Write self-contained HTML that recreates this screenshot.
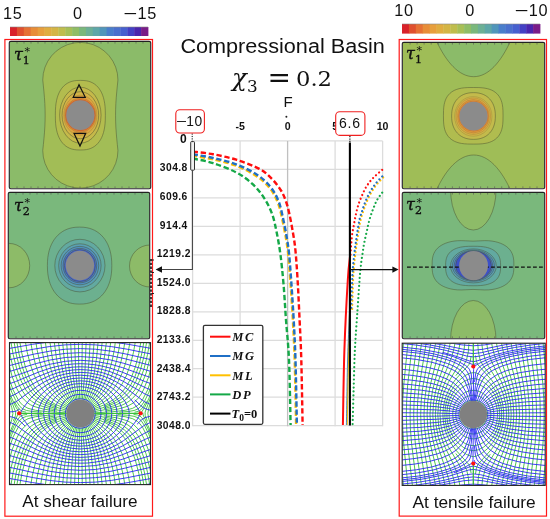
<!DOCTYPE html><html><head><meta charset="utf-8"><title>Compressional Basin</title><style>html,body{margin:0;padding:0;background:#fff;}svg{display:block;}.s{font-family:'Liberation Sans', Arial, sans-serif;} .r{font-family:'Liberation Serif', 'Times New Roman', serif;}</style></head><body><svg width="550" height="519" viewBox="0 0 550 519"><rect width="550" height="519" fill="#fff"/><rect x="10.00" y="27" width="7.30" height="9" fill="#d9222a"/><rect x="16.90" y="27" width="7.30" height="9" fill="#e0502e"/><rect x="23.80" y="27" width="7.30" height="9" fill="#e67134"/><rect x="30.70" y="27" width="7.30" height="9" fill="#e88d38"/><rect x="37.60" y="27" width="7.30" height="9" fill="#e79f3d"/><rect x="44.50" y="27" width="7.30" height="9" fill="#e0ad40"/><rect x="51.40" y="27" width="7.30" height="9" fill="#d4b545"/><rect x="58.30" y="27" width="7.30" height="9" fill="#bfbd4d"/><rect x="65.20" y="27" width="7.30" height="9" fill="#a7bf56"/><rect x="72.10" y="27" width="7.30" height="9" fill="#8fbd65"/><rect x="79.00" y="27" width="7.30" height="9" fill="#7ab87c"/><rect x="85.90" y="27" width="7.30" height="9" fill="#6cb096"/><rect x="92.80" y="27" width="7.30" height="9" fill="#5ea7a8"/><rect x="99.70" y="27" width="7.30" height="9" fill="#5196bb"/><rect x="106.60" y="27" width="7.30" height="9" fill="#4a7ecb"/><rect x="113.50" y="27" width="7.30" height="9" fill="#4a70cd"/><rect x="120.40" y="27" width="7.30" height="9" fill="#4760cf"/><rect x="127.30" y="27" width="7.30" height="9" fill="#4440c4"/><rect x="134.20" y="27" width="7.30" height="9" fill="#4a25ad"/><rect x="141.10" y="27" width="7.30" height="9" fill="#7a1c88"/><line x1="10" y1="27" x2="148" y2="27" stroke="#888" stroke-width="0.6"/><rect x="402.00" y="24" width="7.30" height="9.6" fill="#d9222a"/><rect x="408.90" y="24" width="7.30" height="9.6" fill="#e0502e"/><rect x="415.80" y="24" width="7.30" height="9.6" fill="#e67134"/><rect x="422.70" y="24" width="7.30" height="9.6" fill="#e88d38"/><rect x="429.60" y="24" width="7.30" height="9.6" fill="#e79f3d"/><rect x="436.50" y="24" width="7.30" height="9.6" fill="#e0ad40"/><rect x="443.40" y="24" width="7.30" height="9.6" fill="#d4b545"/><rect x="450.30" y="24" width="7.30" height="9.6" fill="#bfbd4d"/><rect x="457.20" y="24" width="7.30" height="9.6" fill="#a7bf56"/><rect x="464.10" y="24" width="7.30" height="9.6" fill="#8fbd65"/><rect x="471.00" y="24" width="7.30" height="9.6" fill="#7ab87c"/><rect x="477.90" y="24" width="7.30" height="9.6" fill="#6cb096"/><rect x="484.80" y="24" width="7.30" height="9.6" fill="#5ea7a8"/><rect x="491.70" y="24" width="7.30" height="9.6" fill="#5196bb"/><rect x="498.60" y="24" width="7.30" height="9.6" fill="#4a7ecb"/><rect x="505.50" y="24" width="7.30" height="9.6" fill="#4a70cd"/><rect x="512.40" y="24" width="7.30" height="9.6" fill="#4760cf"/><rect x="519.30" y="24" width="7.30" height="9.6" fill="#4440c4"/><rect x="526.20" y="24" width="7.30" height="9.6" fill="#4a25ad"/><rect x="533.10" y="24" width="7.30" height="9.6" fill="#7a1c88"/><line x1="402" y1="24" x2="540" y2="24" stroke="#888" stroke-width="0.6"/><g class="s" font-size="16.3" fill="#111"><text x="2.9" y="18.6" letter-spacing="0.7">15</text><text x="72.9" y="18.6">0</text><text x="0" y="0" transform="translate(123.2 18.6) scale(1.45 1)">&#8722;</text><text x="137.6" y="18.6" letter-spacing="0.7">15</text><text x="394.3" y="15.6" letter-spacing="0.7">10</text><text x="465.3" y="15.6">0</text><text x="0" y="0" transform="translate(514.6 15.6) scale(1.45 1)">&#8722;</text><text x="528.8" y="15.6" letter-spacing="0.7">10</text></g><rect x="4.9" y="39.5" width="147.6" height="476.7" fill="none" stroke="#ff1a1a" stroke-width="1.2"/><rect x="399.2" y="39.5" width="147.3" height="476.6" fill="none" stroke="#ff1a1a" stroke-width="1.2"/><text class="s" x="22.3" y="507" font-size="17.2" fill="#111" textLength="115.2" lengthAdjust="spacingAndGlyphs">At shear failure</text><text class="s" x="412.5" y="508" font-size="17.2" fill="#111" textLength="123.2" lengthAdjust="spacingAndGlyphs">At tensile failure</text><clipPath id="cl1"><rect x="10" y="42" width="140" height="146"/></clipPath><g clip-path="url(#cl1)"><rect x="9" y="41" width="142" height="148" fill="#8bbb69"/><path d="M42.75 80.00 L43.32 73.47 L45.02 67.14 L47.79 61.20 L51.55 55.83 L56.18 51.20 L61.55 47.44 L67.49 44.67 L73.82 42.97 L80.35 42.40 L86.88 42.97 L93.21 44.67 L99.15 47.44 L104.52 51.20 L109.15 55.83 L112.91 61.20 L115.68 67.14 L117.38 73.47 L117.95 80.00 L117.33 85.88 L116.75 91.75 L116.25 97.62 L115.87 103.50 L115.63 109.38 L115.55 115.25 L115.63 121.12 L115.87 127.00 L116.25 132.88 L116.75 138.75 L117.33 144.62 L117.95 150.50 L117.38 157.03 L115.68 163.36 L112.91 169.30 L109.15 174.67 L104.52 179.30 L99.15 183.06 L93.21 185.83 L86.88 187.53 L80.35 188.10 L73.82 187.53 L67.49 185.83 L61.55 183.06 L56.18 179.30 L51.55 174.67 L47.79 169.30 L45.02 163.36 L43.32 157.03 L42.75 150.50 L43.37 144.62 L43.95 138.75 L44.45 132.88 L44.83 127.00 L45.07 121.12 L45.15 115.25 L45.07 109.38 L44.83 103.50 L44.45 97.62 L43.95 91.75 L43.37 85.88Z" fill="#a2bd56" stroke="#4a5030" stroke-opacity="0.75" stroke-width="0.65"/><path d="M105.35 115.20 L105.27 120.14 L105.05 123.78 L104.67 127.00 L104.14 129.95 L103.46 132.67 L102.63 135.19 L101.66 137.51 L100.55 139.64 L99.30 141.57 L97.90 143.32 L96.38 144.87 L94.71 146.22 L92.90 147.37 L90.95 148.31 L88.83 149.05 L86.51 149.58 L83.90 149.89 L80.35 150.00 L76.80 149.89 L74.19 149.58 L71.87 149.05 L69.75 148.31 L67.80 147.37 L65.99 146.22 L64.32 144.87 L62.80 143.32 L61.40 141.57 L60.15 139.64 L59.04 137.51 L58.07 135.19 L57.24 132.67 L56.56 129.95 L56.03 127.00 L55.65 123.78 L55.43 120.14 L55.35 115.20 L55.43 110.26 L55.65 106.62 L56.03 103.40 L56.56 100.45 L57.24 97.73 L58.07 95.21 L59.04 92.89 L60.15 90.76 L61.40 88.83 L62.80 87.08 L64.32 85.53 L65.99 84.18 L67.80 83.03 L69.75 82.09 L71.87 81.35 L74.19 80.82 L76.80 80.51 L80.35 80.40 L83.90 80.51 L86.51 80.82 L88.83 81.35 L90.95 82.09 L92.90 83.03 L94.71 84.18 L96.38 85.53 L97.90 87.08 L99.30 88.83 L100.55 90.76 L101.66 92.89 L102.63 95.21 L103.46 97.73 L104.14 100.45 L104.67 103.40 L105.05 106.62 L105.27 110.26Z" fill="#b3bc4e" stroke="#4a5030" stroke-opacity="0.75" stroke-width="0.65"/><ellipse cx="80.35" cy="115.2" rx="20.7" ry="28.0" fill="#c5b94a" stroke="#4a5030" stroke-opacity="0.75" stroke-width="0.65"/><ellipse cx="80.35" cy="115.2" rx="18.3" ry="23.5" fill="#d3b346" stroke="#4a5030" stroke-opacity="0.75" stroke-width="0.65"/><ellipse cx="80.35" cy="115.2" rx="16.6" ry="20.0" fill="#dda440" stroke="#6a5a30" stroke-opacity="0.45" stroke-width="0.5"/><ellipse cx="80.35" cy="115.2" rx="15.5" ry="17.2" fill="#e38a37" stroke="#6a5a30" stroke-opacity="0.45" stroke-width="0.5"/><ellipse cx="80.35" cy="115.2" rx="14.8" ry="15.7" fill="#e2682f" stroke="#6a5a30" stroke-opacity="0.45" stroke-width="0.5"/><ellipse cx="80.35" cy="115.2" rx="14.15" ry="14.85" fill="#8b8b8b"/><path d="M79 84.7 L73.2 97.3 L85.3 97.3Z M74 133.3 L85.7 133.3 L80 146Z" fill="none" stroke="#111" stroke-width="1.2" stroke-linejoin="miter"/><line x1="17.0" y1="42" x2="17.0" y2="43.6" stroke="#555" stroke-width="0.6"/><line x1="24.0" y1="42" x2="24.0" y2="43.6" stroke="#555" stroke-width="0.6"/><line x1="31.0" y1="42" x2="31.0" y2="43.6" stroke="#555" stroke-width="0.6"/><line x1="38.0" y1="42" x2="38.0" y2="43.6" stroke="#555" stroke-width="0.6"/><line x1="45.0" y1="42" x2="45.0" y2="43.6" stroke="#555" stroke-width="0.6"/><line x1="52.0" y1="42" x2="52.0" y2="43.6" stroke="#555" stroke-width="0.6"/><line x1="59.0" y1="42" x2="59.0" y2="43.6" stroke="#555" stroke-width="0.6"/><line x1="66.0" y1="42" x2="66.0" y2="43.6" stroke="#555" stroke-width="0.6"/><line x1="73.0" y1="42" x2="73.0" y2="43.6" stroke="#555" stroke-width="0.6"/><line x1="80.0" y1="42" x2="80.0" y2="43.6" stroke="#555" stroke-width="0.6"/><line x1="87.0" y1="42" x2="87.0" y2="43.6" stroke="#555" stroke-width="0.6"/><line x1="94.0" y1="42" x2="94.0" y2="43.6" stroke="#555" stroke-width="0.6"/><line x1="101.0" y1="42" x2="101.0" y2="43.6" stroke="#555" stroke-width="0.6"/><line x1="108.0" y1="42" x2="108.0" y2="43.6" stroke="#555" stroke-width="0.6"/><line x1="115.0" y1="42" x2="115.0" y2="43.6" stroke="#555" stroke-width="0.6"/><line x1="122.0" y1="42" x2="122.0" y2="43.6" stroke="#555" stroke-width="0.6"/><line x1="129.0" y1="42" x2="129.0" y2="43.6" stroke="#555" stroke-width="0.6"/><line x1="136.0" y1="42" x2="136.0" y2="43.6" stroke="#555" stroke-width="0.6"/><line x1="143.0" y1="42" x2="143.0" y2="43.6" stroke="#555" stroke-width="0.6"/><line x1="17.0" y1="188" x2="17.0" y2="186.4" stroke="#555" stroke-width="0.6"/><line x1="24.0" y1="188" x2="24.0" y2="186.4" stroke="#555" stroke-width="0.6"/><line x1="31.0" y1="188" x2="31.0" y2="186.4" stroke="#555" stroke-width="0.6"/><line x1="38.0" y1="188" x2="38.0" y2="186.4" stroke="#555" stroke-width="0.6"/><line x1="45.0" y1="188" x2="45.0" y2="186.4" stroke="#555" stroke-width="0.6"/><line x1="52.0" y1="188" x2="52.0" y2="186.4" stroke="#555" stroke-width="0.6"/><line x1="59.0" y1="188" x2="59.0" y2="186.4" stroke="#555" stroke-width="0.6"/><line x1="66.0" y1="188" x2="66.0" y2="186.4" stroke="#555" stroke-width="0.6"/><line x1="73.0" y1="188" x2="73.0" y2="186.4" stroke="#555" stroke-width="0.6"/><line x1="80.0" y1="188" x2="80.0" y2="186.4" stroke="#555" stroke-width="0.6"/><line x1="87.0" y1="188" x2="87.0" y2="186.4" stroke="#555" stroke-width="0.6"/><line x1="94.0" y1="188" x2="94.0" y2="186.4" stroke="#555" stroke-width="0.6"/><line x1="101.0" y1="188" x2="101.0" y2="186.4" stroke="#555" stroke-width="0.6"/><line x1="108.0" y1="188" x2="108.0" y2="186.4" stroke="#555" stroke-width="0.6"/><line x1="115.0" y1="188" x2="115.0" y2="186.4" stroke="#555" stroke-width="0.6"/><line x1="122.0" y1="188" x2="122.0" y2="186.4" stroke="#555" stroke-width="0.6"/><line x1="129.0" y1="188" x2="129.0" y2="186.4" stroke="#555" stroke-width="0.6"/><line x1="136.0" y1="188" x2="136.0" y2="186.4" stroke="#555" stroke-width="0.6"/><line x1="143.0" y1="188" x2="143.0" y2="186.4" stroke="#555" stroke-width="0.6"/></g><rect x="9.3" y="41.3" width="141.4" height="147.4" rx="1.5" fill="none" stroke="#222" stroke-width="1.15"/><text x="13.9" y="59.6" font-family="DejaVu Serif" font-size="16" font-style="italic" fill="#111" stroke="#111" stroke-width="0.45">&#964;</text><text x="22.8" y="64.0" font-family="DejaVu Serif" font-size="11" fill="#111" stroke="#111" stroke-width="0.35">1</text><text x="24.5" y="55.1" font-family="DejaVu Serif" font-size="11" fill="#111">*</text><clipPath id="cl2"><rect x="9" y="193" width="140" height="145"/></clipPath><g clip-path="url(#cl2)"><rect x="8" y="192" width="142" height="147" fill="#7ab87c"/><ellipse cx="9" cy="265.6" rx="20.7" ry="22.2" fill="#8dbb68" stroke="#4a5030" stroke-opacity="0.75" stroke-width="0.65"/><ellipse cx="150" cy="266" rx="20.5" ry="21" fill="#8dbb68" stroke="#4a5030" stroke-opacity="0.75" stroke-width="0.65"/><path d="M111.80 265.60 L111.69 270.00 L111.36 273.72 L110.82 277.18 L110.07 280.43 L109.10 283.50 L107.94 286.39 L106.57 289.09 L105.01 291.59 L103.26 293.89 L101.34 295.98 L99.25 297.84 L96.99 299.48 L94.57 300.88 L92.01 302.03 L89.28 302.93 L86.39 303.58 L83.28 303.97 L79.60 304.10 L75.92 303.97 L72.81 303.58 L69.92 302.93 L67.19 302.03 L64.63 300.88 L62.21 299.48 L59.95 297.84 L57.86 295.98 L55.94 293.89 L54.19 291.59 L52.63 289.09 L51.26 286.39 L50.10 283.50 L49.13 280.43 L48.38 277.18 L47.84 273.72 L47.51 270.00 L47.40 265.60 L47.51 261.20 L47.84 257.48 L48.38 254.02 L49.13 250.77 L50.10 247.70 L51.26 244.81 L52.63 242.11 L54.19 239.61 L55.94 237.31 L57.86 235.22 L59.95 233.36 L62.21 231.72 L64.63 230.32 L67.19 229.17 L69.92 228.27 L72.81 227.62 L75.92 227.23 L79.60 227.10 L83.28 227.23 L86.39 227.62 L89.28 228.27 L92.01 229.17 L94.57 230.32 L96.99 231.72 L99.25 233.36 L101.34 235.22 L103.26 237.31 L105.01 239.61 L106.57 242.11 L107.94 244.81 L109.10 247.70 L110.07 250.77 L110.82 254.02 L111.36 257.48 L111.69 261.20Z" fill="#6cb08f" stroke="#4a5030" stroke-opacity="0.75" stroke-width="0.65"/><ellipse cx="79.9" cy="265.6" rx="25.1" ry="26.3" fill="#62a9a1" stroke="#4a5030" stroke-opacity="0.75" stroke-width="0.65"/><ellipse cx="79.9" cy="265.6" rx="21.2" ry="21.8" fill="#5a9fb3" stroke="#4a5030" stroke-opacity="0.75" stroke-width="0.65"/><ellipse cx="79.9" cy="265.6" rx="18.8" ry="19.2" fill="#5190c0" stroke="#4a5030" stroke-opacity="0.75" stroke-width="0.65"/><ellipse cx="79.9" cy="265.6" rx="16.8" ry="17.2" fill="#4a78cb" stroke="#4a5030" stroke-opacity="0.75" stroke-width="0.65"/><ellipse cx="79.9" cy="265.6" rx="15.5" ry="16.0" fill="#4361d0" stroke="#4a5030" stroke-opacity="0.75" stroke-width="0.65"/><ellipse cx="79.9" cy="265.6" rx="14.2" ry="14.85" fill="#8b8b8b"/><line x1="16.0" y1="193" x2="16.0" y2="194.6" stroke="#555" stroke-width="0.6"/><line x1="23.0" y1="193" x2="23.0" y2="194.6" stroke="#555" stroke-width="0.6"/><line x1="30.0" y1="193" x2="30.0" y2="194.6" stroke="#555" stroke-width="0.6"/><line x1="37.0" y1="193" x2="37.0" y2="194.6" stroke="#555" stroke-width="0.6"/><line x1="44.0" y1="193" x2="44.0" y2="194.6" stroke="#555" stroke-width="0.6"/><line x1="51.0" y1="193" x2="51.0" y2="194.6" stroke="#555" stroke-width="0.6"/><line x1="58.0" y1="193" x2="58.0" y2="194.6" stroke="#555" stroke-width="0.6"/><line x1="65.0" y1="193" x2="65.0" y2="194.6" stroke="#555" stroke-width="0.6"/><line x1="72.0" y1="193" x2="72.0" y2="194.6" stroke="#555" stroke-width="0.6"/><line x1="79.0" y1="193" x2="79.0" y2="194.6" stroke="#555" stroke-width="0.6"/><line x1="86.0" y1="193" x2="86.0" y2="194.6" stroke="#555" stroke-width="0.6"/><line x1="93.0" y1="193" x2="93.0" y2="194.6" stroke="#555" stroke-width="0.6"/><line x1="100.0" y1="193" x2="100.0" y2="194.6" stroke="#555" stroke-width="0.6"/><line x1="107.0" y1="193" x2="107.0" y2="194.6" stroke="#555" stroke-width="0.6"/><line x1="114.0" y1="193" x2="114.0" y2="194.6" stroke="#555" stroke-width="0.6"/><line x1="121.0" y1="193" x2="121.0" y2="194.6" stroke="#555" stroke-width="0.6"/><line x1="128.0" y1="193" x2="128.0" y2="194.6" stroke="#555" stroke-width="0.6"/><line x1="135.0" y1="193" x2="135.0" y2="194.6" stroke="#555" stroke-width="0.6"/><line x1="142.0" y1="193" x2="142.0" y2="194.6" stroke="#555" stroke-width="0.6"/><line x1="16.0" y1="338" x2="16.0" y2="336.4" stroke="#555" stroke-width="0.6"/><line x1="23.0" y1="338" x2="23.0" y2="336.4" stroke="#555" stroke-width="0.6"/><line x1="30.0" y1="338" x2="30.0" y2="336.4" stroke="#555" stroke-width="0.6"/><line x1="37.0" y1="338" x2="37.0" y2="336.4" stroke="#555" stroke-width="0.6"/><line x1="44.0" y1="338" x2="44.0" y2="336.4" stroke="#555" stroke-width="0.6"/><line x1="51.0" y1="338" x2="51.0" y2="336.4" stroke="#555" stroke-width="0.6"/><line x1="58.0" y1="338" x2="58.0" y2="336.4" stroke="#555" stroke-width="0.6"/><line x1="65.0" y1="338" x2="65.0" y2="336.4" stroke="#555" stroke-width="0.6"/><line x1="72.0" y1="338" x2="72.0" y2="336.4" stroke="#555" stroke-width="0.6"/><line x1="79.0" y1="338" x2="79.0" y2="336.4" stroke="#555" stroke-width="0.6"/><line x1="86.0" y1="338" x2="86.0" y2="336.4" stroke="#555" stroke-width="0.6"/><line x1="93.0" y1="338" x2="93.0" y2="336.4" stroke="#555" stroke-width="0.6"/><line x1="100.0" y1="338" x2="100.0" y2="336.4" stroke="#555" stroke-width="0.6"/><line x1="107.0" y1="338" x2="107.0" y2="336.4" stroke="#555" stroke-width="0.6"/><line x1="114.0" y1="338" x2="114.0" y2="336.4" stroke="#555" stroke-width="0.6"/><line x1="121.0" y1="338" x2="121.0" y2="336.4" stroke="#555" stroke-width="0.6"/><line x1="128.0" y1="338" x2="128.0" y2="336.4" stroke="#555" stroke-width="0.6"/><line x1="135.0" y1="338" x2="135.0" y2="336.4" stroke="#555" stroke-width="0.6"/><line x1="142.0" y1="338" x2="142.0" y2="336.4" stroke="#555" stroke-width="0.6"/></g><rect x="8.3" y="192.3" width="141.4" height="146.4" rx="1.5" fill="none" stroke="#222" stroke-width="1.15"/><text x="13.9" y="210.6" font-family="DejaVu Serif" font-size="16" font-style="italic" fill="#111" stroke="#111" stroke-width="0.45">&#964;</text><text x="22.8" y="215.0" font-family="DejaVu Serif" font-size="11" fill="#111" stroke="#111" stroke-width="0.35">2</text><text x="24.5" y="206.1" font-family="DejaVu Serif" font-size="11" fill="#111">*</text><clipPath id="cr1"><rect x="403" y="43" width="141" height="145"/></clipPath><g clip-path="url(#cr1)"><rect x="401" y="41" width="145" height="149" fill="#9fbd57"/><path d="M436 40 C446 62 459 76.7 473.7 76.7 C488.4 76.7 501 62 511 40Z" fill="#8bbb69" stroke="#4a5030" stroke-opacity="0.75" stroke-width="0.65"/><path d="M436 191 C446 169 459 155 473.7 155 C488.4 155 501 169 511 191Z" fill="#8bbb69" stroke="#4a5030" stroke-opacity="0.75" stroke-width="0.65"/><path d="M503.05 115.80 L502.97 121.06 L502.74 124.26 L502.35 126.94 L501.80 129.30 L501.10 131.42 L500.24 133.35 L499.22 135.09 L498.05 136.67 L496.71 138.08 L495.22 139.35 L493.56 140.46 L491.73 141.43 L489.70 142.24 L487.47 142.91 L484.98 143.43 L482.16 143.80 L478.79 144.03 L473.25 144.10 L467.71 144.03 L464.34 143.80 L461.52 143.43 L459.03 142.91 L456.80 142.24 L454.77 141.43 L452.94 140.46 L451.28 139.35 L449.79 138.08 L448.45 136.67 L447.28 135.09 L446.26 133.35 L445.40 131.42 L444.70 129.30 L444.15 126.94 L443.76 124.26 L443.53 121.06 L443.45 115.80 L443.53 110.54 L443.76 107.34 L444.15 104.66 L444.70 102.30 L445.40 100.18 L446.26 98.25 L447.28 96.51 L448.45 94.93 L449.79 93.52 L451.28 92.25 L452.94 91.14 L454.77 90.17 L456.80 89.36 L459.03 88.69 L461.52 88.17 L464.34 87.80 L467.71 87.57 L473.25 87.50 L478.79 87.57 L482.16 87.80 L484.98 88.17 L487.47 88.69 L489.70 89.36 L491.73 90.17 L493.56 91.14 L495.22 92.25 L496.71 93.52 L498.05 94.93 L499.22 96.51 L500.24 98.25 L501.10 100.18 L501.80 102.30 L502.35 104.66 L502.74 107.34 L502.97 110.54Z" fill="#b0bc4f" stroke="#4a5030" stroke-opacity="0.75" stroke-width="0.65"/><path d="M495.35 116.00 L495.28 118.67 L495.05 120.93 L494.69 123.02 L494.17 125.00 L493.52 126.86 L492.73 128.61 L491.80 130.25 L490.74 131.76 L489.56 133.16 L488.25 134.42 L486.83 135.56 L485.30 136.55 L483.66 137.39 L481.92 138.09 L480.07 138.64 L478.11 139.03 L476.00 139.27 L473.50 139.35 L471.00 139.27 L468.89 139.03 L466.93 138.64 L465.08 138.09 L463.34 137.39 L461.70 136.55 L460.17 135.56 L458.75 134.42 L457.44 133.16 L456.26 131.76 L455.20 130.25 L454.27 128.61 L453.48 126.86 L452.83 125.00 L452.31 123.02 L451.95 120.93 L451.72 118.67 L451.65 116.00 L451.72 113.33 L451.95 111.07 L452.31 108.98 L452.83 107.00 L453.48 105.14 L454.27 103.39 L455.20 101.75 L456.26 100.24 L457.44 98.84 L458.75 97.58 L460.17 96.44 L461.70 95.45 L463.34 94.61 L465.08 93.91 L466.93 93.36 L468.89 92.97 L471.00 92.73 L473.50 92.65 L476.00 92.73 L478.11 92.97 L480.07 93.36 L481.92 93.91 L483.66 94.61 L485.30 95.45 L486.83 96.44 L488.25 97.58 L489.56 98.84 L490.74 100.24 L491.80 101.75 L492.73 103.39 L493.52 105.14 L494.17 107.00 L494.69 108.98 L495.05 111.07 L495.28 113.33Z" fill="#c3ba4b" stroke="#4a5030" stroke-opacity="0.75" stroke-width="0.65"/><ellipse cx="473.3" cy="116.4" rx="18.65" ry="19.8" fill="#d0b547" stroke="#6a5a30" stroke-opacity="0.45" stroke-width="0.5"/><ellipse cx="473.3" cy="116.2" rx="17.3" ry="18.2" fill="#daa942" stroke="#6a5a30" stroke-opacity="0.45" stroke-width="0.5"/><ellipse cx="473.4" cy="116.2" rx="15.7" ry="16.7" fill="#e3993c" stroke="#6a5a30" stroke-opacity="0.45" stroke-width="0.5"/><ellipse cx="473.5" cy="116.1" rx="14.8" ry="15.2" fill="#e58637" stroke="#6a5a30" stroke-opacity="0.45" stroke-width="0.5"/><ellipse cx="473.5" cy="116.1" rx="14.1" ry="14.4" fill="#8b8b8b"/><line x1="410.1" y1="43" x2="410.1" y2="44.6" stroke="#555" stroke-width="0.6"/><line x1="417.1" y1="43" x2="417.1" y2="44.6" stroke="#555" stroke-width="0.6"/><line x1="424.1" y1="43" x2="424.1" y2="44.6" stroke="#555" stroke-width="0.6"/><line x1="431.2" y1="43" x2="431.2" y2="44.6" stroke="#555" stroke-width="0.6"/><line x1="438.2" y1="43" x2="438.2" y2="44.6" stroke="#555" stroke-width="0.6"/><line x1="445.3" y1="43" x2="445.3" y2="44.6" stroke="#555" stroke-width="0.6"/><line x1="452.4" y1="43" x2="452.4" y2="44.6" stroke="#555" stroke-width="0.6"/><line x1="459.4" y1="43" x2="459.4" y2="44.6" stroke="#555" stroke-width="0.6"/><line x1="466.4" y1="43" x2="466.4" y2="44.6" stroke="#555" stroke-width="0.6"/><line x1="473.5" y1="43" x2="473.5" y2="44.6" stroke="#555" stroke-width="0.6"/><line x1="480.6" y1="43" x2="480.6" y2="44.6" stroke="#555" stroke-width="0.6"/><line x1="487.6" y1="43" x2="487.6" y2="44.6" stroke="#555" stroke-width="0.6"/><line x1="494.6" y1="43" x2="494.6" y2="44.6" stroke="#555" stroke-width="0.6"/><line x1="501.7" y1="43" x2="501.7" y2="44.6" stroke="#555" stroke-width="0.6"/><line x1="508.8" y1="43" x2="508.8" y2="44.6" stroke="#555" stroke-width="0.6"/><line x1="515.8" y1="43" x2="515.8" y2="44.6" stroke="#555" stroke-width="0.6"/><line x1="522.9" y1="43" x2="522.9" y2="44.6" stroke="#555" stroke-width="0.6"/><line x1="529.9" y1="43" x2="529.9" y2="44.6" stroke="#555" stroke-width="0.6"/><line x1="537.0" y1="43" x2="537.0" y2="44.6" stroke="#555" stroke-width="0.6"/><line x1="410.1" y1="188" x2="410.1" y2="186.4" stroke="#555" stroke-width="0.6"/><line x1="417.1" y1="188" x2="417.1" y2="186.4" stroke="#555" stroke-width="0.6"/><line x1="424.1" y1="188" x2="424.1" y2="186.4" stroke="#555" stroke-width="0.6"/><line x1="431.2" y1="188" x2="431.2" y2="186.4" stroke="#555" stroke-width="0.6"/><line x1="438.2" y1="188" x2="438.2" y2="186.4" stroke="#555" stroke-width="0.6"/><line x1="445.3" y1="188" x2="445.3" y2="186.4" stroke="#555" stroke-width="0.6"/><line x1="452.4" y1="188" x2="452.4" y2="186.4" stroke="#555" stroke-width="0.6"/><line x1="459.4" y1="188" x2="459.4" y2="186.4" stroke="#555" stroke-width="0.6"/><line x1="466.4" y1="188" x2="466.4" y2="186.4" stroke="#555" stroke-width="0.6"/><line x1="473.5" y1="188" x2="473.5" y2="186.4" stroke="#555" stroke-width="0.6"/><line x1="480.6" y1="188" x2="480.6" y2="186.4" stroke="#555" stroke-width="0.6"/><line x1="487.6" y1="188" x2="487.6" y2="186.4" stroke="#555" stroke-width="0.6"/><line x1="494.6" y1="188" x2="494.6" y2="186.4" stroke="#555" stroke-width="0.6"/><line x1="501.7" y1="188" x2="501.7" y2="186.4" stroke="#555" stroke-width="0.6"/><line x1="508.8" y1="188" x2="508.8" y2="186.4" stroke="#555" stroke-width="0.6"/><line x1="515.8" y1="188" x2="515.8" y2="186.4" stroke="#555" stroke-width="0.6"/><line x1="522.9" y1="188" x2="522.9" y2="186.4" stroke="#555" stroke-width="0.6"/><line x1="529.9" y1="188" x2="529.9" y2="186.4" stroke="#555" stroke-width="0.6"/><line x1="537.0" y1="188" x2="537.0" y2="186.4" stroke="#555" stroke-width="0.6"/></g><rect x="402.3" y="42.3" width="142.4" height="146.4" rx="1.5" fill="none" stroke="#222" stroke-width="1.15"/><text x="406.0" y="58.6" font-family="DejaVu Serif" font-size="16" font-style="italic" fill="#111" stroke="#111" stroke-width="0.45">&#964;</text><text x="414.9" y="63.0" font-family="DejaVu Serif" font-size="11" fill="#111" stroke="#111" stroke-width="0.35">1</text><text x="416.6" y="54.1" font-family="DejaVu Serif" font-size="11" fill="#111">*</text><clipPath id="cr2"><rect x="403" y="193" width="141" height="145"/></clipPath><g clip-path="url(#cr2)"><rect x="401" y="191" width="145" height="149" fill="#7ab87c"/><ellipse cx="473.3" cy="190" rx="22.7" ry="40" fill="#8dbb68" stroke="#4a5030" stroke-opacity="0.75" stroke-width="0.65"/><ellipse cx="473.3" cy="340.5" rx="22.7" ry="40" fill="#8dbb68" stroke="#4a5030" stroke-opacity="0.75" stroke-width="0.65"/><path d="M513.90 265.30 L513.79 269.75 L513.46 272.57 L512.90 274.97 L512.12 277.10 L511.12 279.03 L509.91 280.78 L508.47 282.38 L506.81 283.82 L504.93 285.13 L502.83 286.30 L500.50 287.32 L497.93 288.21 L495.11 288.95 L492.01 289.51 L488.58 289.88 L484.71 289.97 L480.16 289.77 L473.00 289.43 L465.84 289.77 L461.29 289.97 L457.42 289.88 L453.99 289.51 L450.89 288.95 L448.07 288.21 L445.50 287.32 L443.17 286.30 L441.07 285.13 L439.19 283.82 L437.53 282.38 L436.09 280.78 L434.88 279.03 L433.88 277.10 L433.10 274.97 L432.54 272.57 L432.21 269.75 L432.10 265.30 L432.21 260.85 L432.54 258.03 L433.10 255.63 L433.88 253.50 L434.88 251.57 L436.09 249.82 L437.53 248.22 L439.19 246.78 L441.07 245.47 L443.17 244.30 L445.50 243.28 L448.07 242.39 L450.89 241.65 L453.99 241.09 L457.42 240.72 L461.29 240.63 L465.84 240.83 L473.00 241.17 L480.16 240.83 L484.71 240.63 L488.58 240.72 L492.01 241.09 L495.11 241.65 L497.93 242.39 L500.50 243.28 L502.83 244.30 L504.93 245.47 L506.81 246.78 L508.47 248.22 L509.91 249.82 L511.12 251.57 L512.12 253.50 L512.90 255.63 L513.46 258.03 L513.79 260.85Z" fill="#6cb08f" stroke="#4a5030" stroke-opacity="0.75" stroke-width="0.65"/><path d="M500.60 266.00 L500.52 269.24 L500.29 271.40 L499.90 273.26 L499.36 274.92 L498.67 276.43 L497.82 277.82 L496.82 279.08 L495.67 280.24 L494.37 281.28 L492.92 282.21 L491.32 283.04 L489.56 283.75 L487.63 284.36 L485.52 284.86 L483.20 285.25 L480.62 285.53 L477.61 285.69 L473.10 285.75 L468.59 285.69 L465.58 285.53 L463.00 285.25 L460.68 284.86 L458.57 284.36 L456.64 283.75 L454.88 283.04 L453.28 282.21 L451.83 281.28 L450.53 280.24 L449.38 279.08 L448.38 277.82 L447.53 276.43 L446.84 274.92 L446.30 273.26 L445.91 271.40 L445.68 269.24 L445.60 266.00 L445.68 262.76 L445.91 260.60 L446.30 258.74 L446.84 257.08 L447.53 255.57 L448.38 254.18 L449.38 252.92 L450.53 251.76 L451.83 250.72 L453.28 249.79 L454.88 248.96 L456.64 248.25 L458.57 247.64 L460.68 247.14 L463.00 246.75 L465.58 246.47 L468.59 246.31 L473.10 246.25 L477.61 246.31 L480.62 246.47 L483.20 246.75 L485.52 247.14 L487.63 247.64 L489.56 248.25 L491.32 248.96 L492.92 249.79 L494.37 250.72 L495.67 251.76 L496.82 252.92 L497.82 254.18 L498.67 255.57 L499.36 257.08 L499.90 258.74 L500.29 260.60 L500.52 262.76Z" fill="#62a9a1" stroke="#4a5030" stroke-opacity="0.75" stroke-width="0.65"/><ellipse cx="473.4" cy="265.9" rx="22.9" ry="17.0" fill="#5a9fb3" stroke="#4a5030" stroke-opacity="0.75" stroke-width="0.65"/><ellipse cx="473.4" cy="265.7" rx="21.0" ry="15.6" fill="#5190c0" stroke="#4a5030" stroke-opacity="0.75" stroke-width="0.65"/><ellipse cx="473.4" cy="265.7" rx="19.2" ry="14.7" fill="#4a78cb" stroke="#4a5030" stroke-opacity="0.75" stroke-width="0.65"/><ellipse cx="473.5" cy="265.6" rx="17.9" ry="14.5" fill="#3d50c8" stroke="#4a5030" stroke-opacity="0.75" stroke-width="0.65"/><line x1="407" y1="267.1" x2="545" y2="267.1" stroke="#111" stroke-width="1.05" stroke-dasharray="3.8 2.2"/><ellipse cx="473.6" cy="265.55" rx="14.4" ry="14.65" fill="#8b8b8b"/><line x1="410.1" y1="193" x2="410.1" y2="194.6" stroke="#555" stroke-width="0.6"/><line x1="417.1" y1="193" x2="417.1" y2="194.6" stroke="#555" stroke-width="0.6"/><line x1="424.1" y1="193" x2="424.1" y2="194.6" stroke="#555" stroke-width="0.6"/><line x1="431.2" y1="193" x2="431.2" y2="194.6" stroke="#555" stroke-width="0.6"/><line x1="438.2" y1="193" x2="438.2" y2="194.6" stroke="#555" stroke-width="0.6"/><line x1="445.3" y1="193" x2="445.3" y2="194.6" stroke="#555" stroke-width="0.6"/><line x1="452.4" y1="193" x2="452.4" y2="194.6" stroke="#555" stroke-width="0.6"/><line x1="459.4" y1="193" x2="459.4" y2="194.6" stroke="#555" stroke-width="0.6"/><line x1="466.4" y1="193" x2="466.4" y2="194.6" stroke="#555" stroke-width="0.6"/><line x1="473.5" y1="193" x2="473.5" y2="194.6" stroke="#555" stroke-width="0.6"/><line x1="480.6" y1="193" x2="480.6" y2="194.6" stroke="#555" stroke-width="0.6"/><line x1="487.6" y1="193" x2="487.6" y2="194.6" stroke="#555" stroke-width="0.6"/><line x1="494.6" y1="193" x2="494.6" y2="194.6" stroke="#555" stroke-width="0.6"/><line x1="501.7" y1="193" x2="501.7" y2="194.6" stroke="#555" stroke-width="0.6"/><line x1="508.8" y1="193" x2="508.8" y2="194.6" stroke="#555" stroke-width="0.6"/><line x1="515.8" y1="193" x2="515.8" y2="194.6" stroke="#555" stroke-width="0.6"/><line x1="522.9" y1="193" x2="522.9" y2="194.6" stroke="#555" stroke-width="0.6"/><line x1="529.9" y1="193" x2="529.9" y2="194.6" stroke="#555" stroke-width="0.6"/><line x1="537.0" y1="193" x2="537.0" y2="194.6" stroke="#555" stroke-width="0.6"/><line x1="410.1" y1="338" x2="410.1" y2="336.4" stroke="#555" stroke-width="0.6"/><line x1="417.1" y1="338" x2="417.1" y2="336.4" stroke="#555" stroke-width="0.6"/><line x1="424.1" y1="338" x2="424.1" y2="336.4" stroke="#555" stroke-width="0.6"/><line x1="431.2" y1="338" x2="431.2" y2="336.4" stroke="#555" stroke-width="0.6"/><line x1="438.2" y1="338" x2="438.2" y2="336.4" stroke="#555" stroke-width="0.6"/><line x1="445.3" y1="338" x2="445.3" y2="336.4" stroke="#555" stroke-width="0.6"/><line x1="452.4" y1="338" x2="452.4" y2="336.4" stroke="#555" stroke-width="0.6"/><line x1="459.4" y1="338" x2="459.4" y2="336.4" stroke="#555" stroke-width="0.6"/><line x1="466.4" y1="338" x2="466.4" y2="336.4" stroke="#555" stroke-width="0.6"/><line x1="473.5" y1="338" x2="473.5" y2="336.4" stroke="#555" stroke-width="0.6"/><line x1="480.6" y1="338" x2="480.6" y2="336.4" stroke="#555" stroke-width="0.6"/><line x1="487.6" y1="338" x2="487.6" y2="336.4" stroke="#555" stroke-width="0.6"/><line x1="494.6" y1="338" x2="494.6" y2="336.4" stroke="#555" stroke-width="0.6"/><line x1="501.7" y1="338" x2="501.7" y2="336.4" stroke="#555" stroke-width="0.6"/><line x1="508.8" y1="338" x2="508.8" y2="336.4" stroke="#555" stroke-width="0.6"/><line x1="515.8" y1="338" x2="515.8" y2="336.4" stroke="#555" stroke-width="0.6"/><line x1="522.9" y1="338" x2="522.9" y2="336.4" stroke="#555" stroke-width="0.6"/><line x1="529.9" y1="338" x2="529.9" y2="336.4" stroke="#555" stroke-width="0.6"/><line x1="537.0" y1="338" x2="537.0" y2="336.4" stroke="#555" stroke-width="0.6"/></g><rect x="402.3" y="192.3" width="142.4" height="146.4" rx="1.5" fill="none" stroke="#222" stroke-width="1.15"/><text x="406.0" y="210.0" font-family="DejaVu Serif" font-size="16" font-style="italic" fill="#111" stroke="#111" stroke-width="0.45">&#964;</text><text x="414.9" y="214.4" font-family="DejaVu Serif" font-size="11" fill="#111" stroke="#111" stroke-width="0.35">2</text><text x="416.6" y="205.5" font-family="DejaVu Serif" font-size="11" fill="#111">*</text><clipPath id="ct1"><rect x="10" y="343" width="140" height="141"/></clipPath><g clip-path="url(#ct1)" fill="none" stroke-width="0.88"><path d="M94.3 412.9 112.9 411.7 125.1 410.3 132.7 408.3 137.6 405.5 140.1 403.0 142.6 399.6 147.6 390.0 152.1 377.3 156.0 362.5M94.2 411.6 109.9 408.8 121.1 405.5 125.5 403.5 129.0 401.3 132.3 398.6 135.1 395.5 138.0 391.3 141.0 386.1 146.0 373.3 150.2 357.3 153.6 337.8M94.0 410.3 107.0 406.5 117.1 402.1 124.5 397.0 127.8 393.9 130.6 390.4 135.9 381.4 140.5 369.7 144.3 355.2 147.4 337.8M93.6 409.0 104.8 404.6 113.6 399.5 120.6 393.8 126.2 386.9 131.2 377.9 135.3 367.0 138.8 353.6 141.6 337.7M93.2 407.8 102.7 402.9 110.6 397.3 116.8 391.3 122.1 384.0 126.6 375.2 130.3 364.7 133.5 352.2 136.0 337.8M92.6 406.7 100.7 401.5 107.5 395.7 113.3 389.2 118.0 381.9 122.1 373.2 125.5 363.3 128.3 351.6 130.7 337.7M91.9 405.6 99.0 400.0 105.1 393.9 110.2 387.2 114.4 379.9 117.9 371.6 120.9 361.9 123.4 350.8 125.6 337.7M91.1 404.5 97.2 398.8 102.5 392.6 106.9 385.8 110.7 378.4 113.9 370.0 116.5 360.7 118.8 349.9 120.7 337.7M90.3 403.6 95.4 397.8 100.0 391.4 103.8 384.7 107.1 377.3 109.9 369.0 112.3 360.0 114.3 349.7 115.9 337.8M89.3 402.7 93.6 397.0 97.5 390.5 100.8 383.8 103.7 376.3 106.1 368.2 108.2 359.2 111.4 337.8M88.3 401.9 91.9 396.1 95.2 389.7 98.0 382.7 100.5 375.3 104.2 358.6 107.0 337.8M87.2 401.3 90.1 395.4 92.9 388.7 97.2 374.7 100.4 358.2 102.7 337.6M86.0 400.7 90.6 388.3 94.1 374.0 96.6 357.7 98.5 337.7M84.8 400.2 88.3 387.8 91.0 373.7 92.9 357.6 94.4 337.8M83.6 399.9 86.0 387.2 87.9 373.2 89.3 357.1 90.3 337.6M82.3 399.6 84.9 373.1 86.3 337.7M81.0 399.5 81.9 373.1 82.3 337.7M79.7 399.5 78.8 373.1 78.4 337.7M78.4 399.6 75.8 373.1 74.4 337.7M77.1 399.9 74.7 387.2 72.8 373.2 71.4 357.1 70.4 337.6M75.9 400.2 72.4 387.8 69.7 373.7 67.8 357.6 66.3 337.8M74.7 400.7 70.1 388.3 66.6 374.0 64.1 357.7 62.2 337.7M73.5 401.3 70.6 395.4 67.8 388.7 63.5 374.7 60.3 358.2 58.0 337.6M72.4 401.9 68.8 396.1 65.5 389.7 62.7 382.7 60.2 375.3 56.5 358.6 53.7 337.8M71.4 402.7 67.1 397.0 63.2 390.5 59.9 383.8 57.0 376.3 54.6 368.2 52.5 359.2 49.3 337.8M70.4 403.6 65.3 397.8 60.7 391.4 56.9 384.7 53.6 377.3 50.8 369.0 48.4 360.0 46.4 349.7 44.8 337.8M69.6 404.5 63.5 398.8 58.2 392.6 53.8 385.8 50.0 378.4 46.8 370.0 44.2 360.7 41.9 349.9 40.0 337.7M68.8 405.6 61.7 400.0 55.6 393.9 50.5 387.2 46.3 379.9 42.8 371.6 39.8 361.9 37.3 350.8 35.1 337.7M68.1 406.7 60.0 401.5 53.2 395.7 47.4 389.2 42.7 381.9 38.6 373.2 35.2 363.3 32.4 351.6 30.0 337.7M67.5 407.8 58.0 402.9 50.1 397.3 43.9 391.3 38.6 384.0 34.1 375.2 30.4 364.7 27.2 352.2 24.7 337.8M67.1 409.0 55.9 404.6 47.1 399.5 40.1 393.8 34.5 386.9 29.5 377.9 25.4 367.0 21.9 353.6 19.1 337.7M66.7 410.3 53.7 406.5 43.6 402.1 36.2 397.0 32.9 393.9 30.1 390.4 24.8 381.4 20.2 369.7 16.4 355.2 13.3 337.8M66.5 411.6 50.8 408.8 39.6 405.5 35.2 403.5 31.7 401.3 28.4 398.6 25.6 395.5 22.7 391.3 19.7 386.1 14.7 373.3 10.5 357.3 7.1 337.8M66.4 412.9 47.8 411.7 35.6 410.3 28.0 408.3 23.1 405.5 20.6 403.0 18.1 399.6 13.1 390.0 8.6 377.3 4.7 362.5M66.4 414.1 47.8 415.3 35.6 416.7 28.0 418.7 23.1 421.5 20.6 424.0 18.1 427.4 13.1 437.0 8.6 449.7 4.7 464.5M66.5 415.4 50.8 418.2 39.6 421.5 35.2 423.5 31.7 425.7 28.4 428.4 25.6 431.5 22.7 435.7 19.7 440.9 14.7 453.7 10.5 469.7 7.1 489.2M66.7 416.7 53.7 420.5 43.6 424.9 36.2 430.0 32.9 433.1 30.1 436.6 24.8 445.6 20.2 457.3 16.4 471.8 13.3 489.2M67.1 418.0 55.9 422.4 47.1 427.5 40.1 433.2 34.5 440.1 29.5 449.1 25.4 460.0 21.9 473.4 19.1 489.3M67.5 419.2 58.0 424.1 50.1 429.7 43.9 435.7 38.6 443.0 34.1 451.8 30.4 462.3 27.2 474.8 24.7 489.2M68.1 420.3 60.0 425.5 53.2 431.3 47.4 437.8 42.7 445.1 38.6 453.8 35.2 463.7 32.4 475.4 30.0 489.3M68.8 421.4 61.7 427.0 55.6 433.1 50.5 439.8 46.3 447.1 42.8 455.4 39.8 465.1 37.3 476.2 35.1 489.3M69.6 422.5 63.5 428.2 58.2 434.4 53.8 441.2 50.0 448.6 46.8 457.0 44.2 466.3 41.9 477.1 40.0 489.3M70.4 423.4 65.3 429.2 60.7 435.6 56.9 442.3 53.6 449.7 50.8 458.0 48.4 467.0 46.4 477.3 44.8 489.2M71.4 424.3 67.1 430.0 63.2 436.5 59.9 443.2 57.0 450.7 54.6 458.8 52.5 467.8 49.3 489.2M72.4 425.1 68.8 430.9 65.5 437.3 62.7 444.3 60.2 451.7 56.5 468.4 53.7 489.2M73.5 425.7 70.6 431.6 67.8 438.3 63.5 452.3 60.3 468.8 58.0 489.4M74.7 426.3 70.1 438.7 66.6 453.0 64.1 469.3 62.2 489.3M75.9 426.8 72.4 439.2 69.7 453.3 67.8 469.4 66.3 489.2M77.1 427.1 74.7 439.8 72.8 453.8 71.4 469.9 70.4 489.4M78.4 427.4 75.8 453.9 74.4 489.3M79.7 427.5 78.8 453.9 78.4 489.3M81.0 427.5 81.9 453.9 82.3 489.3M82.3 427.4 84.9 453.9 86.3 489.3M83.6 427.1 86.0 439.8 87.9 453.8 89.3 469.9 90.3 489.4M84.8 426.8 88.3 439.2 91.0 453.3 92.9 469.4 94.4 489.2M86.0 426.3 90.6 438.7 94.1 453.0 96.6 469.3 98.5 489.3M87.2 425.7 90.1 431.6 92.9 438.3 97.2 452.3 100.4 468.8 102.7 489.4M88.3 425.1 91.9 430.9 95.2 437.3 98.0 444.3 100.5 451.7 104.2 468.4 107.0 489.2M89.3 424.3 93.6 430.0 97.5 436.5 100.8 443.2 103.7 450.7 106.1 458.8 108.2 467.8 111.4 489.2M90.3 423.4 95.4 429.2 100.0 435.6 103.8 442.3 107.1 449.7 109.9 458.0 112.3 467.0 114.3 477.3 115.9 489.2M91.1 422.5 97.2 428.2 102.5 434.4 106.9 441.2 110.7 448.6 113.9 457.0 116.5 466.3 118.8 477.1 120.7 489.3M91.9 421.4 99.0 427.0 105.1 433.1 110.2 439.8 114.4 447.1 117.9 455.4 120.9 465.1 123.4 476.2 125.6 489.3M92.6 420.3 100.7 425.5 107.5 431.3 113.3 437.8 118.0 445.1 122.1 453.8 125.5 463.7 128.3 475.4 130.7 489.3M93.2 419.2 102.7 424.1 110.6 429.7 116.8 435.7 122.1 443.0 126.6 451.8 130.3 462.3 133.5 474.8 136.0 489.2M93.6 418.0 104.8 422.4 113.6 427.5 120.6 433.2 126.2 440.1 131.2 449.1 135.3 460.0 138.8 473.4 141.6 489.3M94.0 416.7 107.0 420.5 117.1 424.9 124.5 430.0 127.8 433.1 130.6 436.6 135.9 445.6 140.5 457.3 144.3 471.8 147.4 489.2M94.2 415.4 109.9 418.2 121.1 421.5 125.5 423.5 129.0 425.7 132.3 428.4 135.1 431.5 138.0 435.7 141.0 440.9 146.0 453.7 150.2 469.7 153.6 489.2M94.3 414.1 112.9 415.3 125.1 416.7 132.7 418.7 137.6 421.5 140.1 424.0 142.6 427.4 147.6 437.0 152.1 449.7 156.0 464.5M104.2 413.5 136.3 413.3 139.9 413.1 141.3 412.6 144.7 407.3 149.0 398.1 152.7 388.6 156.0 378.0M105.0 411.1 118.3 409.0 127.2 406.4 133.5 402.9 138.6 397.8 141.3 393.9 143.8 389.1 148.6 377.1 152.6 362.7 156.0 345.3M119.2 412.2 128.2 411.5 134.1 410.5 138.0 408.9 140.9 406.4 144.8 400.7 148.9 392.3 152.6 382.2 156.0 370.3M103.8 408.8 114.7 405.5 123.1 401.5 129.5 396.5 134.8 390.0 139.7 380.7 144.0 368.9 147.5 354.7 150.5 337.8M103.8 406.4 112.8 402.3 119.8 397.7 125.7 392.2 130.6 385.3 135.0 376.5 138.8 365.7 141.9 352.9 144.6 337.8M56.9 406.4 47.9 402.3 40.9 397.7 35.0 392.2 30.1 385.3 25.7 376.5 21.9 365.7 18.8 352.9 16.1 337.8M56.9 408.8 46.0 405.5 37.6 401.5 31.2 396.5 25.9 390.0 21.0 380.7 16.7 368.9 13.2 354.7 10.2 337.8M56.8 411.2 43.1 409.0 33.9 406.4 30.4 404.7 27.4 402.8 22.3 397.7 19.6 393.7 16.9 388.7 12.2 376.7 8.1 361.7 4.7 344.0M56.5 413.5 24.4 413.3 20.8 413.1 19.4 412.6 16.0 407.3 11.7 398.1 8.0 388.6 4.7 378.0M41.5 412.2 32.5 411.5 26.6 410.5 22.7 408.9 19.8 406.4 15.9 400.7 11.8 392.3 8.1 382.2 4.7 370.3M4.7 481.7 8.1 464.3 12.1 449.9 16.9 437.9 19.4 433.1 22.1 429.2 27.2 424.1 33.5 420.6 42.4 418.0 55.7 415.9M4.7 456.3 8.1 444.5 11.8 434.4 15.9 426.0 19.8 420.3 22.7 417.8 26.6 416.3 32.9 415.3 42.7 414.6M10.2 489.2 13.2 472.3 16.7 458.1 21.0 446.3 25.9 437.0 31.2 430.5 37.6 425.5 46.0 421.5 56.9 418.2M16.1 489.2 18.8 474.1 21.9 461.3 25.7 450.5 30.1 441.7 35.0 434.8 40.9 429.3 47.9 424.7 56.9 420.6M144.6 489.2 141.9 474.1 138.8 461.3 135.0 450.5 130.6 441.7 125.7 434.8 119.8 429.3 112.8 424.7 103.8 420.6M150.5 489.2 147.5 472.3 144.0 458.1 139.7 446.3 134.8 437.0 129.5 430.5 123.1 425.5 114.7 421.5 103.8 418.2M156.0 483.0 152.6 465.3 148.5 450.3 143.8 438.3 141.1 433.3 138.4 429.3 133.3 424.2 130.3 422.3 126.8 420.6 117.6 418.0 103.9 415.8M156.0 456.3 152.6 444.5 148.9 434.4 144.8 426.0 140.9 420.3 138.0 417.8 134.1 416.3 127.8 415.3 118.0 414.6M156.0 451.4 150.4 434.3 147.2 426.9 143.9 420.8 141.7 417.6 139.9 416.0 137.4 415.0 133.6 414.5M134.5 412.2 138.3 411.4 140.8 409.8 143.4 406.5 146.4 401.3M151.3 433.6 147.9 425.3 143.1 415.0 142.8 412.6M147.4 421.3 145.2 415.4 145.1 412.1 153.7 389.3M4.7 451.4 10.3 434.3 13.5 426.9 16.8 420.8 19.0 417.6 20.8 416.0 23.3 415.0 27.1 414.5M26.2 412.2 22.4 411.4 19.9 409.8 17.3 406.5 14.3 401.3M9.4 433.6 12.8 425.3 17.6 415.0 17.9 412.6M13.3 421.3 15.5 415.4 15.6 412.1 7.0 389.3M156.0 440.5 148.9 419.4 147.8 413.5 148.9 407.7 156.0 386.6M4.7 440.5 11.8 419.4 12.9 413.5 11.8 407.7 4.7 386.6M156.0 434.1 152.0 420.3 151.0 413.4 152.0 406.6 156.0 393.1M4.7 434.1 8.7 420.3 9.7 413.4 8.7 406.6 4.7 393.1" stroke="#35c035"/><path d="M80.3 398.8 83.3 399.1 86.2 400.0 88.8 401.4 90.9 403.1 92.8 405.5 94.1 407.8 95.0 410.7 95.2 413.4 95.0 416.1 94.2 418.9 92.8 421.6 90.9 423.9 88.8 425.6 86.1 427.0 83.3 427.9 80.3 428.2 77.3 427.9 74.5 427.0 71.8 425.6 69.8 423.8 67.9 421.5 66.6 419.1 65.7 416.3 65.5 413.6 65.7 410.9 66.5 408.0 68.0 405.4 69.9 403.1 72.0 401.4 74.6 399.9 77.5 399.1 80.3 398.8M80.4 394.3 84.6 394.7 88.3 395.8 91.8 397.5 94.9 399.9 97.5 402.8 99.4 406.2 100.7 409.8 101.0 413.4 100.7 417.0 99.5 420.7 97.6 424.1 95.0 427.0 91.9 429.4 88.2 431.3 84.4 432.3 80.2 432.7 76.1 432.3 72.3 431.2 68.9 429.4 65.8 427.1 63.2 424.2 61.2 420.8 60.0 417.1 59.7 413.5 60.0 409.9 61.2 406.2 63.2 402.9 65.7 399.9 68.8 397.6 72.6 395.7 76.3 394.7 80.4 394.3M80.4 390.3 85.5 390.7 90.4 392.1 95.0 394.3 98.8 397.2 102.1 400.7 104.6 404.8 106.0 409.1 106.5 413.5 106.0 418.0 104.4 422.5 101.9 426.6 98.6 430.0 94.7 432.8 90.1 435.0 85.2 436.3 80.1 436.7 75.0 436.2 70.1 434.8 65.6 432.6 61.7 429.7 58.5 426.1 56.1 422.0 54.6 417.8 54.2 413.3 54.7 408.8 56.2 404.6 58.7 400.5 62.0 397.0 65.9 394.2 70.5 392.0 75.4 390.7 80.4 390.3M80.5 386.7 86.4 387.3 92.2 388.8 97.7 391.3 102.6 394.8 106.5 398.9 109.4 403.4 111.2 408.5 111.8 413.5 111.2 418.6 109.4 423.6 106.3 428.4 102.3 432.5 97.4 435.9 91.9 438.3 86.1 439.8 80.1 440.3 74.1 439.7 68.4 438.2 62.9 435.6 58.0 432.2 54.1 428.0 51.2 423.5 49.4 418.4 48.9 413.3 49.5 408.3 51.4 403.3 54.3 398.7 58.3 394.6 63.2 391.2 68.6 388.7 74.4 387.2 80.5 386.7M80.5 383.6 87.3 384.2 94.0 385.9 100.3 388.7 106.0 392.6 110.7 397.2 114.2 402.4 116.4 408.0 117.1 413.6 116.4 419.3 114.1 424.8 110.6 430.0 105.6 434.8 99.8 438.6 93.5 441.3 86.8 442.9 79.9 443.4 73.1 442.8 66.4 441.0 60.1 438.2 54.7 434.5 50.0 429.8 46.5 424.6 44.3 419.0 43.6 413.4 44.3 407.8 46.6 402.2 50.1 397.0 54.8 392.4 60.6 388.6 66.9 385.8 73.6 384.1 80.5 383.6M80.5 380.8 88.3 381.4 95.8 383.3 103.0 386.4 109.2 390.5 114.9 395.8 119.1 401.7 121.7 407.7 122.6 413.7 121.7 419.6 119.0 425.6 114.7 431.4 109.0 436.7 102.4 440.8 95.3 443.9 87.7 445.7 79.9 446.2 72.1 445.5 64.6 443.6 57.5 440.4 51.2 436.3 45.8 431.2 41.6 425.3 39.0 419.3 38.1 413.4 39.0 407.4 41.7 401.4 46.0 395.6 51.7 390.3 58.0 386.3 65.2 383.2 72.7 381.4 80.5 380.8M80.5 378.0 89.2 378.7 97.6 380.8 105.6 384.1 112.8 388.5 119.6 394.4 124.8 401.0 128.1 407.4 128.9 410.5 129.2 413.5 128.9 416.5 128.1 419.7 124.6 426.3 119.3 432.8 112.5 438.7 105.1 443.2 97.0 446.4 88.5 448.4 79.9 449.0 71.2 448.2 63.1 446.2 55.0 442.9 47.9 438.5 41.1 432.6 35.9 426.0 32.6 419.6 31.8 416.4 31.5 413.4 31.8 410.5 32.6 407.3 36.1 400.6 41.4 394.2 48.2 388.3 55.4 383.9 63.4 380.6 71.9 378.6 80.5 378.0M80.5 375.2 89.5 375.9 98.6 377.9 107.0 381.1 115.1 385.5 123.0 391.5 130.3 398.6 137.3 407.6 139.5 411.5 140.1 413.5 139.4 415.8 136.9 419.9 129.9 428.9 122.5 436.0 114.6 441.8 106.4 446.2 97.7 449.4 88.6 451.3 79.6 451.8 70.6 451.1 61.9 449.0 53.5 445.8 45.3 441.3 37.4 435.3 30.4 428.4 23.5 419.4 21.2 415.5 20.6 413.5 21.3 411.2 23.6 407.4 30.6 398.4 37.9 391.2 45.9 385.4 54.0 380.9 62.5 377.8 71.5 375.8 80.5 375.2M4.7 405.8 11.0 404.1 16.4 401.5 37.5 386.1 44.1 382.0 50.8 378.7 58.1 375.9 65.4 374.0 72.8 372.8 80.2 372.4 87.7 372.8 95.4 374.0 102.7 375.9 110.0 378.7 116.7 382.1 123.3 386.1 144.3 401.6 149.8 404.1 156.1 405.8M134.8 399.8 140.8 405.7 144.4 408.4 149.0 409.9 156.1 410.8M137.1 424.2 141.6 419.8 144.9 417.7 149.2 416.5 156.1 415.8M4.7 421.2 11.1 422.8 16.2 425.3 37.5 440.9 44.2 445.0 50.9 448.3 58.2 451.1 65.4 453.0 72.8 454.2 80.3 454.6 87.8 454.2 95.5 453.0 102.7 451.0 110.0 448.2 116.7 444.9 123.3 440.8 144.3 425.3 149.8 422.8 156.2 421.1M4.7 416.1 11.8 416.9 16.1 418.3 19.6 420.7 25.1 426.1M4.6 412.3 14.8 411.5 17.3 410.6 19.5 409.0M4.7 398.4 10.1 396.6 15.3 394.2 37.9 381.1 50.7 375.2 58.1 372.7 65.4 371.0 72.8 370.0 80.3 369.6 87.8 370.0 95.2 371.0 102.5 372.7 109.9 375.2 122.7 381.0 145.3 394.2 150.7 396.6 156.2 398.4M4.5 428.5 9.9 430.3 15.4 432.7 37.9 445.9 50.7 451.8 58.1 454.2 65.4 456.0 72.8 457.0 80.3 457.4 87.8 457.0 95.2 456.0 102.5 454.3 109.9 451.8 122.7 445.9 145.3 432.8 150.8 430.3 156.2 428.5M4.6 391.7 14.4 388.1 37.9 376.7 50.7 371.6 58.2 369.5 65.6 368.0 73.0 367.1 80.2 366.8 87.7 367.1 95.1 368.0 102.5 369.5 110.0 371.6 122.8 376.7 146.3 388.1 156.1 391.8M4.7 435.2 14.5 438.9 38.0 450.3 50.5 455.2 58.0 457.4 65.3 458.9 72.8 459.9 80.3 460.2 87.8 459.9 95.2 459.0 102.5 457.5 110.0 455.3 122.9 450.2 146.3 438.8 156.2 435.2M4.7 385.4 15.5 381.6 39.1 371.9 50.4 368.1 58.0 366.2 65.4 364.8 72.8 364.0 80.3 363.7 87.8 364.0 95.3 364.8 102.6 366.2 110.2 368.1 121.6 371.9 145.4 381.7 156.2 385.5M4.5 441.4 15.3 445.2 39.1 455.1 50.5 458.9 58.0 460.8 65.4 462.1 72.9 463.0 80.4 463.2 87.9 463.0 95.3 462.1 102.7 460.8 110.2 458.9 121.6 455.0 145.4 445.2 156.2 441.4M4.7 379.1 14.7 376.0 37.9 367.8 50.3 364.2 65.3 361.3 80.3 360.3 95.3 361.3 110.3 364.1 122.7 367.7 146.1 376.0 156.2 379.2M4.5 447.7 14.8 451.0 38.0 459.2 50.4 462.8 65.4 465.7 80.4 466.6 95.3 465.6 110.3 462.8 122.7 459.2 145.9 451.0 156.2 447.7M4.6 372.9 36.8 363.4 50.2 360.0 65.3 357.5 80.3 356.6 95.2 357.5 110.3 359.9 123.7 363.3 156.2 373.0M4.7 454.0 36.9 463.6 50.3 467.0 65.4 469.5 80.3 470.3 95.3 469.5 110.4 467.0 123.8 463.6 156.0 454.0M4.7 366.8 35.8 358.7 49.9 355.6 65.3 353.4 80.3 352.7 95.3 353.4 110.7 355.6 124.8 358.7 156.1 366.8M4.5 460.1 35.9 468.2 49.9 471.3 65.4 473.5 80.4 474.2 95.3 473.5 110.8 471.3 124.8 468.2 156.2 460.1M4.5 360.9 34.6 354.0 49.7 351.2 65.4 349.2 80.4 348.6 95.4 349.2 111.2 351.2 125.9 354.0 156.0 360.8M4.5 466.1 34.7 472.9 49.7 475.8 65.5 477.8 80.5 478.4 95.4 477.7 111.2 475.8 125.9 472.9 156.1 466.1M4.7 355.0 33.6 349.2 49.2 346.6 65.0 344.9 80.3 344.3 95.6 344.9 111.4 346.6 127.1 349.2 156.2 355.0M4.5 471.9 33.6 477.7 49.3 480.4 65.1 482.1 80.4 482.6 95.7 482.1 111.5 480.4 127.1 477.7 156.0 472.0M4.5 349.3 32.6 344.3 48.9 342.0 65.0 340.4 80.3 339.9 95.6 340.4 111.7 341.9 128.1 344.3 156.1 349.3M4.6 477.6 32.6 482.6 48.9 485.0 65.1 486.5 80.4 487.0 95.6 486.5 111.8 485.0 128.1 482.6 156.2 477.6M4.7 343.7 43.3 337.9M116.1 337.9 156.2 343.9M4.5 483.2 43.9 489.1M115.6 489.1 156.2 483.0" stroke="#2424f2"/></g><line x1="21" y1="413.4" x2="70" y2="413.4" stroke="#35c035" stroke-width="1.0"/><line x1="91" y1="413.4" x2="139" y2="413.4" stroke="#35c035" stroke-width="1.0"/><circle cx="80.35" cy="413.5" r="14.0" fill="#808080"/><circle cx="19.2" cy="413.3" r="2.1" fill="#ff1010"/><circle cx="140.6" cy="413.3" r="2.1" fill="#ff1010"/><rect x="9.5" y="342.6" width="141" height="142" fill="none" stroke="#222" stroke-width="1.1"/><clipPath id="ct2"><rect x="402.5" y="343.5" width="142.5" height="141.5"/></clipPath><g clip-path="url(#ct2)" fill="none" stroke-width="0.88"><path d="M473.3 365.2 473.3 338.5M473.3 464.0 473.3 490.7M473.3 400.1 476.0 400.4 478.6 401.1 481.0 402.4 483.3 404.3 485.0 406.3 486.4 409.0 487.3 411.8 487.6 414.5 487.3 417.2 486.5 420.1 485.1 422.7 483.4 424.8 481.1 426.7 478.7 428.0 476.1 428.8 473.4 429.1 470.8 428.9 468.2 428.1 465.8 426.9 463.4 425.0 461.7 423.0 460.2 420.4 459.3 417.5 459.0 414.8 459.2 412.1 460.0 409.2 461.4 406.6 463.1 404.5 465.4 402.6 467.8 401.3 470.6 400.4 473.3 400.1M471.1 473.1 470.2 467.8 468.7 464.3 455.4 449.6 451.6 444.2 448.4 438.4 446.0 432.6 444.3 426.8 443.3 420.9 442.9 414.7 443.3 408.4 444.3 402.5 445.9 396.7 448.3 390.9 451.5 385.1 455.3 379.7 468.8 364.8 470.3 361.2 471.1 356.2M475.5 355.5 476.4 361.1 477.9 364.7 491.5 379.9 495.2 385.3 498.4 391.1 500.8 396.9 502.4 402.7 503.4 408.6 503.7 414.6 503.4 420.6 502.4 426.5 500.8 432.3 498.4 438.1 495.2 443.9 491.5 449.3 477.9 464.5 476.4 468.1 475.5 474.0M455.8 375.7 463.5 365.7 466.5 359.9 468.3 352.0 469.3 338.6M477.4 338.6 478.4 352.0 480.1 359.9 483.0 365.5 490.3 375.0M477.4 490.6 478.4 477.2 480.1 469.3 483.0 463.7 490.3 454.2M455.8 453.5 463.5 463.5 466.5 469.3 468.3 477.2 469.3 490.6M473.4 395.2 476.6 395.6 480.0 396.7 483.1 398.6 485.7 401.1 487.9 403.9 489.6 407.4 490.5 410.9 490.9 414.8 490.4 418.7 489.4 422.1 487.8 425.3 485.7 428.2 483.0 430.6 479.9 432.5 476.5 433.6 473.3 434.0 470.0 433.6 466.6 432.5 463.5 430.6 460.9 428.2 458.7 425.3 457.0 421.8 456.1 418.3 455.7 414.4 456.1 410.6 457.2 407.1 458.9 403.6 461.1 400.8 463.8 398.4 466.9 396.6 470.0 395.6 473.4 395.2M465.4 338.6 463.9 350.8 461.5 359.4 458.4 365.6 448.4 382.3 443.5 393.6 440.9 404.0 440.0 414.5 440.8 425.0 443.4 435.4 448.3 446.7 458.5 463.7 461.5 469.9 463.9 478.5 465.4 490.7M447.0 418.3 448.1 425.1 450.4 431.6 453.7 437.6 458.1 443.0 463.1 447.2 468.5 449.9 473.2 450.7 478.2 449.9 483.8 447.0 489.0 442.5 493.4 436.8 496.8 430.2 498.9 423.3 499.8 415.8 499.3 408.4 497.6 401.1 495.4 395.8 492.4 390.9 488.8 386.5 484.8 383.0 480.7 380.4 476.5 378.9 472.7 378.5 468.5 379.3 463.9 381.5 459.4 384.9 455.4 389.3 451.9 394.6 449.4 400.0 447.7 406.1 446.9 412.0 447.0 418.3M481.2 338.5 482.7 350.7 485.1 359.3 488.1 365.5 498.3 382.5 503.2 393.8 505.8 404.3 506.6 414.7 505.7 425.2 503.2 435.4 498.4 446.7 488.2 463.6 485.1 469.8 482.7 478.5 481.2 490.7M473.4 390.3 477.3 390.8 481.2 392.3 484.7 394.6 487.9 397.7 490.5 401.4 492.3 405.5 493.5 409.9 493.9 414.6 493.5 419.4 492.3 423.7 490.4 427.8 487.9 431.5 484.7 434.7 481.1 436.9 477.2 438.4 473.4 438.9 469.5 438.4 465.6 437.0 462.0 434.7 458.8 431.6 456.2 427.9 454.2 423.6 453.1 419.2 452.7 414.4 453.1 409.7 454.3 405.3 456.2 401.3 458.8 397.6 462.0 394.5 465.6 392.2 469.5 390.8 473.4 390.3M460.6 490.6 458.9 480.0 456.4 471.3 453.7 464.7 445.0 447.2 441.1 436.5 438.6 425.7 437.8 414.7 438.6 403.6 441.0 392.8 445.0 382.1 453.6 364.6 456.5 357.7 459.0 349.1 460.6 338.7M466.2 454.3 471.5 456.4 473.6 456.6 475.9 456.3 481.6 453.5 487.6 448.6 492.9 442.5 497.1 435.2 500.0 427.7 501.5 419.4 501.7 411.9 500.7 404.5 498.6 397.3 495.3 390.6 490.7 383.9 485.2 378.4 479.3 374.3 476.5 373.1 474.2 372.6 470.1 373.1 465.2 375.5 459.8 379.8 455.0 385.1 451.1 390.8 448.2 396.8 446.2 403.0 445.1 409.8 444.9 416.4 445.6 423.0 447.1 429.4 449.5 435.2 452.7 441.0 456.7 446.2 461.4 450.8 466.2 454.3M470.8 445.5 475.3 445.6 479.9 444.3 484.4 441.8 488.6 438.1 492.1 433.6 494.9 428.3 496.7 422.6 497.5 416.6 497.4 410.6 496.3 405.0 494.2 399.4 491.3 394.5 487.7 390.1 483.5 386.8 478.9 384.5 474.2 383.5 469.8 383.9 465.3 385.5 461.0 388.3 457.1 392.1 454.0 396.5 451.5 401.6 449.8 407.0 449.1 412.7 449.2 418.4 450.3 424.0 452.2 429.3 454.8 434.0 458.2 438.3 462.2 441.8 466.4 444.2 470.8 445.5M486.0 338.6 487.6 349.0 490.1 357.6 493.0 364.6 501.6 382.0 505.6 392.7 508.0 403.5 508.8 414.6 508.0 425.7 505.6 436.5 501.6 447.2 493.0 464.6 490.2 471.3 487.7 479.9 486.0 490.6M455.8 338.5 454.1 348.0 451.8 356.6 441.8 381.4 438.4 392.0 436.2 403.1 435.4 414.5 436.1 425.9 438.4 437.3 441.9 447.9 451.8 472.7 454.2 481.3 455.8 490.8M490.8 338.5 492.5 348.0 494.8 356.4 504.8 381.4 508.2 392.0 510.5 403.2 511.2 414.5 510.5 425.9 508.2 437.4 504.7 447.9 494.8 472.7 492.5 481.1 490.8 490.5M451.0 490.7 449.3 481.9 447.2 473.8 438.7 448.8 435.6 438.1 433.5 426.3 432.8 414.6 433.5 403.0 435.6 391.2 438.6 380.5 447.3 355.2 449.4 347.1 451.0 338.5M495.7 338.6 497.2 347.1 499.3 355.3 508.0 380.5 510.9 390.9 513.1 402.7 513.8 414.7 513.1 426.3 511.0 438.1 507.9 448.8 499.4 473.8 497.3 481.9 495.6 490.8M446.1 338.7 442.8 354.2 435.3 379.5 432.6 390.3 430.7 402.4 430.0 414.7 430.7 427.0 432.7 439.1 435.4 449.9 442.8 474.9 446.1 490.8M500.5 338.5 503.8 354.1 511.3 379.4 514.0 390.2 515.9 402.3 516.6 414.6 515.9 426.9 514.0 439.0 511.3 449.8 503.8 475.1 500.5 490.6M441.2 490.7 438.4 476.3 431.9 451.0 429.5 439.9 427.7 427.1 427.1 414.5 427.7 401.9 429.5 389.2 431.9 378.3 438.4 353.0 441.2 338.6M505.4 338.5 508.2 352.9 514.7 378.2 517.1 389.3 518.9 402.1 519.5 414.7 518.9 427.3 517.1 440.0 514.7 450.9 508.2 476.2 505.4 490.6M436.4 338.5 434.1 351.5 428.3 377.0 426.2 388.5 424.5 401.6 424.0 414.5 424.5 427.4 426.2 440.7 428.4 452.2 434.1 477.7 436.4 490.7M510.2 338.5 512.6 351.5 518.3 377.0 520.5 388.5 522.1 401.9 522.7 414.7 522.1 427.6 520.5 440.7 518.3 452.2 512.6 477.7 510.2 490.7M431.6 490.7 422.6 441.4 421.1 427.7 420.7 414.5 421.2 401.3 422.7 387.6 431.6 338.6M515.0 338.6 523.9 387.6 525.5 401.3 526.0 414.5 525.5 427.7 524.0 441.4 515.0 490.7M426.9 338.7 419.1 386.9 417.7 401.0 417.2 414.5 417.7 428.3 419.1 442.3 426.9 490.6M519.7 338.4 527.6 387.0 528.9 401.0 529.4 414.5 528.9 428.3 527.6 442.3 519.8 490.6M422.2 490.8 415.3 443.0 414.1 428.6 413.7 414.5 414.1 400.4 415.4 386.1 422.2 338.6M524.4 338.6 531.3 386.1 532.5 400.5 532.9 414.5 532.5 428.6 531.3 443.0 524.4 490.8M417.5 338.7 411.6 385.4 410.4 400.1 410.1 414.5 410.4 428.8 411.6 443.8 417.5 490.5M529.1 338.6 535.1 385.6 536.2 400.2 536.6 414.6 536.2 429.0 535.1 443.7 529.1 490.7M413.0 490.7 407.7 444.5 406.7 429.3 406.3 414.6 406.7 399.9 407.7 384.6 413.0 338.4M533.7 338.6 538.9 384.8 540.0 400.1 540.3 414.7 539.9 429.4 538.9 444.4 533.7 490.6M408.4 338.5 403.8 384.2 402.8 399.7 402.5 414.7 402.8 429.4 403.8 445.0 408.4 490.7M538.2 338.7 542.9 384.3 543.8 399.6 544.1 414.6 543.8 429.6 542.9 444.9 538.2 490.5M403.9 490.6 399.8 445.5 399.0 429.6 398.7 414.6 399.0 399.6 399.8 383.7 403.9 338.6M542.7 338.5 546.8 383.6 547.7 399.5 547.9 414.5 547.7 429.8 546.8 445.7 542.7 490.8" stroke="#35c035"/><path d="M487.1 413.8 510.8 413.0 549.5 412.7M486.9 412.3 497.6 410.9 510.8 409.9 549.5 408.7M486.6 410.8 497.4 408.4 510.5 406.7 527.2 405.5 549.4 404.8M486.1 409.3 496.6 405.9 509.9 403.5 526.6 401.8 549.4 400.8M485.4 407.9 490.5 405.4 496.2 403.4 509.6 400.2 526.5 398.0 549.3 396.7M484.6 406.6 489.4 403.6 495.1 400.9 501.3 398.7 508.6 396.9 525.8 394.2 549.4 392.5M483.6 405.4 488.6 401.6 494.3 398.3 500.7 395.6 507.8 393.4 516.0 391.6 525.2 390.2 549.4 388.1M482.5 404.3 487.3 399.8 492.9 395.8 499.3 392.5 506.4 390.0 514.5 387.8 524.3 386.1 535.6 384.7 549.3 383.6M481.3 403.3 486.0 397.9 491.4 393.2 497.6 389.5 504.7 386.4 513.1 383.9 523.1 381.8 534.9 380.2 549.3 378.9M480.0 402.5 484.3 396.1 489.5 390.6 495.6 386.2 502.8 382.6 511.6 379.6 521.9 377.3 534.3 375.4 549.2 374.0M478.6 401.8 482.6 394.1 487.5 387.7 493.4 382.7 500.5 378.7 509.4 375.3 520.2 372.6 533.2 370.5 549.4 368.8M477.1 401.3 480.6 392.1 484.8 384.8 490.2 379.2 497.2 374.6 506.3 370.7 517.9 367.6 532.1 365.1 549.4 363.3M475.6 401.0 478.3 389.6 481.7 381.3 483.8 378.0 486.1 375.3 489.1 372.7 492.6 370.4 502.4 365.9 515.0 362.2 530.4 359.4 549.5 357.3M474.1 400.8 475.4 385.6 477.2 376.2 478.5 373.1 480.1 370.6 482.1 368.4 485.0 366.2 489.7 363.6 495.7 360.9 510.1 356.6 527.8 353.2 549.2 350.8M472.5 400.8 471.2 385.6 469.4 376.2 468.1 373.1 466.5 370.6 464.5 368.4 461.6 366.2 456.9 363.6 450.9 360.9 436.5 356.6 418.8 353.2 397.4 350.8M471.0 401.0 468.3 389.6 464.9 381.3 462.8 378.0 460.5 375.3 457.5 372.7 454.0 370.4 444.2 365.9 431.6 362.2 416.2 359.4 397.1 357.3M469.5 401.3 466.0 392.1 461.8 384.8 456.4 379.2 449.4 374.6 440.3 370.7 428.7 367.6 414.5 365.1 397.2 363.3M468.0 401.8 464.0 394.1 459.1 387.7 453.2 382.7 446.1 378.7 437.2 375.3 426.4 372.6 413.4 370.5 397.2 368.8M466.6 402.5 462.3 396.1 457.1 390.6 451.0 386.2 443.8 382.6 435.0 379.6 424.7 377.3 412.3 375.4 397.4 374.0M465.3 403.3 460.6 397.9 455.2 393.2 449.0 389.5 441.9 386.4 433.5 383.9 423.5 381.8 411.7 380.2 397.3 378.9M464.1 404.3 459.3 399.8 453.7 395.8 447.3 392.5 440.2 390.0 432.1 387.8 422.3 386.1 411.0 384.7 397.3 383.6M463.0 405.4 458.0 401.6 452.3 398.3 445.9 395.6 438.8 393.4 430.6 391.6 421.4 390.2 397.2 388.1M462.0 406.6 457.2 403.6 451.5 400.9 445.3 398.7 438.0 396.9 420.8 394.2 397.2 392.5M461.2 407.9 456.1 405.4 450.4 403.4 437.0 400.2 420.1 398.0 397.3 396.7M460.5 409.3 450.0 405.9 436.7 403.5 420.0 401.8 397.2 400.8M460.0 410.8 449.2 408.4 436.1 406.7 419.4 405.5 397.2 404.8M459.7 412.3 449.0 410.9 435.8 409.9 397.1 408.7M459.5 413.8 435.8 413.0 397.1 412.7M459.5 415.4 435.8 416.2 397.1 416.5M459.7 416.9 449.0 418.3 435.8 419.3 397.1 420.5M460.0 418.4 449.2 420.8 436.1 422.5 419.4 423.7 397.2 424.4M460.5 419.9 450.0 423.3 436.7 425.7 420.0 427.4 397.2 428.4M461.2 421.3 456.1 423.8 450.4 425.8 437.0 429.0 420.1 431.2 397.3 432.5M462.0 422.6 457.2 425.6 451.5 428.3 445.3 430.5 438.0 432.3 420.8 435.0 397.2 436.7M463.0 423.8 458.0 427.6 452.3 430.9 445.9 433.6 438.8 435.8 430.6 437.6 421.4 439.0 397.2 441.1M464.1 424.9 459.3 429.4 453.7 433.4 447.3 436.7 440.2 439.2 432.1 441.4 422.3 443.1 411.0 444.5 397.3 445.6M465.3 425.9 460.6 431.3 455.2 436.0 449.0 439.7 441.9 442.8 433.5 445.3 423.5 447.4 411.7 449.0 397.3 450.3M466.6 426.7 462.3 433.1 457.1 438.6 451.0 443.0 443.8 446.6 435.0 449.6 424.7 451.9 412.3 453.8 397.4 455.2M468.0 427.4 464.0 435.1 459.1 441.5 453.2 446.5 446.1 450.5 437.2 453.9 426.4 456.6 413.4 458.7 397.2 460.4M469.5 427.9 466.0 437.1 461.8 444.4 456.4 450.0 449.4 454.6 440.3 458.5 428.7 461.6 414.5 464.1 397.2 465.9M471.0 428.2 468.3 439.6 464.9 447.9 462.8 451.2 460.5 453.9 457.5 456.5 454.0 458.8 444.2 463.3 431.6 467.0 416.2 469.8 397.1 471.9M472.5 428.4 471.2 443.6 469.4 453.0 468.1 456.1 466.5 458.6 464.5 460.8 461.6 463.0 456.9 465.6 450.9 468.3 436.5 472.6 418.8 476.0 397.4 478.4M474.1 428.4 475.4 443.6 477.2 453.0 478.5 456.1 480.1 458.6 482.1 460.8 485.0 463.0 489.7 465.6 495.7 468.3 510.1 472.6 527.8 476.0 549.2 478.4M475.6 428.2 478.3 439.6 481.7 447.9 483.8 451.2 486.1 453.9 489.1 456.5 492.6 458.8 502.4 463.3 515.0 467.0 530.4 469.8 549.5 471.9M477.1 427.9 480.6 437.1 484.8 444.4 490.2 450.0 497.2 454.6 506.3 458.5 517.9 461.6 532.1 464.1 549.4 465.9M478.6 427.4 482.6 435.1 487.5 441.5 493.4 446.5 500.5 450.5 509.4 453.9 520.2 456.6 533.2 458.7 549.4 460.4M480.0 426.7 484.3 433.1 489.5 438.6 495.6 443.0 502.8 446.6 511.6 449.6 521.9 451.9 534.3 453.8 549.2 455.2M481.3 425.9 486.0 431.3 491.4 436.0 497.6 439.7 504.7 442.8 513.1 445.3 523.1 447.4 534.9 449.0 549.3 450.3M482.5 424.9 487.3 429.4 492.9 433.4 499.3 436.7 506.4 439.2 514.5 441.4 524.3 443.1 535.6 444.5 549.3 445.6M483.6 423.8 488.6 427.6 494.3 430.9 500.7 433.6 507.8 435.8 516.0 437.6 525.2 439.0 549.4 441.1M484.6 422.6 489.4 425.6 495.1 428.3 501.3 430.5 508.6 432.3 525.8 435.0 549.4 436.7M485.4 421.3 490.5 423.8 496.2 425.8 509.6 429.0 526.5 431.2 549.3 432.5M486.1 419.9 496.6 423.3 509.9 425.7 526.6 427.4 549.4 428.4M486.6 418.4 497.4 420.8 510.5 422.5 527.2 423.7 549.4 424.4M486.9 416.9 497.6 418.3 510.8 419.3 549.5 420.5M487.1 415.4 510.8 416.2 549.5 416.5M474.8 401.1 476.8 388.0 479.5 379.1 481.2 376.0 483.3 373.1 485.9 370.6 489.1 368.3 493.6 365.8 499.1 363.5 512.6 359.4 529.1 356.3 549.3 354.0M473.3 401.0 473.6 369.5 473.9 367.1 475.3 365.6 481.0 362.4 488.5 359.1 496.4 356.3 505.3 353.8 525.3 349.9 549.5 347.1M474.5 381.9 475.7 373.6 476.5 371.0 477.6 368.9 479.5 366.9 481.8 365.1 489.3 361.2 500.8 357.0 514.5 353.6 530.5 350.9 549.3 348.9M472.2 383.3 471.2 374.0 469.4 369.3 467.9 367.4 465.6 365.5 458.5 361.6 447.0 357.3 433.0 353.7 416.5 350.9 397.1 348.8M471.8 401.1 469.8 388.0 467.1 379.1 465.4 376.0 463.3 373.1 460.7 370.6 457.5 368.3 453.0 365.8 447.5 363.5 434.0 359.4 417.5 356.3 397.3 354.0M397.3 475.2 417.5 472.9 434.0 469.8 447.5 465.7 453.0 463.4 457.5 460.9 460.7 458.6 463.3 456.1 465.4 453.2 467.1 450.1 469.8 441.2 471.8 428.1M397.1 482.1 421.3 479.3 441.3 475.4 450.2 472.9 458.1 470.1 465.6 466.8 471.3 463.6 472.7 462.1 473.0 459.7 473.3 428.2M397.3 480.3 416.1 478.3 432.1 475.6 445.8 472.2 457.3 468.0 464.8 464.1 467.1 462.3 469.0 460.3 470.1 458.2 470.9 455.6 472.1 447.3M549.5 480.4 530.1 478.3 513.6 475.5 499.6 471.9 488.1 467.6 481.0 463.7 478.7 461.8 477.2 459.9 475.4 455.2 474.4 445.9M549.3 475.2 529.1 472.9 512.6 469.8 499.1 465.7 493.6 463.4 489.1 460.9 485.9 458.6 483.3 456.1 481.2 453.2 479.5 450.1 476.8 441.2 474.8 428.1M476.5 363.5 473.9 364.4 472.1 364.3 453.8 356.8 445.2 354.2 435.6 351.9 418.1 348.9 397.3 346.6M442.5 352.3 454.3 355.7 469.6 361.0 474.0 361.6 477.8 360.7 496.0 354.5 509.9 351.0 528.0 347.8 549.4 345.5M397.3 487.1 414.9 485.3 430.6 482.9 445.3 480.0 466.3 474.7 473.4 473.9 480.5 474.7 501.2 480.0 515.6 482.9 531.3 485.2 549.2 487.1M397.2 484.6 417.2 482.4 434.6 479.6 449.8 475.9 468.4 470.1 473.2 469.4 477.9 470.1 496.8 476.0 512.0 479.6 529.4 482.4 549.4 484.6M453.8 472.9 470.3 466.6 473.8 466.1 476.7 466.8 493.6 473.2 508.3 477.2 526.9 480.6 549.3 483.1M549.4 481.8 534.8 480.3 522.0 478.5 510.5 476.3 500.3 473.7 489.8 470.2 481.0 466.3 475.7 462.9 474.8 461.8 474.2 460.1M549.4 343.0 530.9 345.0 514.6 347.5 500.0 350.6 479.7 356.1 473.2 356.9 466.9 356.1 446.7 350.6 432.0 347.5 415.7 345.0 397.2 343.0M402.7 490.5 427.7 487.5 463.4 480.8 473.2 479.9 483.1 480.8 519.0 487.5 543.8 490.5M397.4 489.0 413.8 487.4 428.3 485.3 442.8 482.7 464.8 477.8 473.4 476.9 482.0 477.9 504.0 482.7 518.2 485.3 533.0 487.4 549.4 489.0M397.1 338.8 426.6 342.2 440.8 344.6 463.7 349.3 473.3 350.3 482.8 349.3 505.7 344.6 519.9 342.2 549.4 338.8M397.3 341.0 414.3 342.7 429.4 344.9 443.9 347.6 465.2 352.6 473.2 353.6 481.3 352.7 502.9 347.6 517.3 344.9 532.5 342.7 549.5 341.0M428.6 490.5 461.8 485.0 473.4 484.1 485.1 485.0 517.9 490.5M521.6 338.7 484.6 344.9 473.2 345.8 461.9 344.9 425.2 338.7M444.4 490.5 462.2 487.8 473.2 487.1 484.3 487.8 502.1 490.5M441.8 338.7 461.9 341.8 473.3 342.6 484.7 341.8 504.5 338.7" stroke="#2424f2"/></g><line x1="473.3" y1="343.5" x2="473.3" y2="365" stroke="#35c035" stroke-width="1.0"/><line x1="473.3" y1="465" x2="473.3" y2="484.8" stroke="#35c035" stroke-width="1.0"/><circle cx="473.3" cy="414.6" r="13.8" fill="#808080"/><circle cx="473.3" cy="366.5" r="2.1" fill="#ff1010"/><circle cx="473.3" cy="463.5" r="2.1" fill="#ff1010"/><rect x="402.2" y="343.2" width="143" height="142.2" fill="none" stroke="#222" stroke-width="1.1"/><text class="s" x="180.4" y="52.9" font-size="19.6" fill="#111" textLength="204.5" lengthAdjust="spacingAndGlyphs">Compressional Basin</text><text x="232" y="85.8" font-family="DejaVu Serif" font-size="24.5" font-style="italic" fill="#111">&#967;</text><text x="247" y="92.2" font-family="DejaVu Serif" font-size="16.8" fill="#111">3</text><text x="267.6" y="87" font-family="DejaVu Serif" font-size="28" fill="#111">=</text><text x="296" y="86.1" font-family="DejaVu Serif" font-size="19.6" fill="#111" textLength="36" lengthAdjust="spacingAndGlyphs">0.2</text><text class="s" x="283.6" y="106.8" font-size="15" fill="#111">F</text><circle cx="286.4" cy="116.7" r="1" fill="#222"/><g stroke="#dcdcdc" stroke-width="1.3"><line x1="192.6" y1="141" x2="192.6" y2="426.2"/><line x1="240.1" y1="141" x2="240.1" y2="426.2"/><line x1="335.1" y1="141" x2="335.1" y2="426.2"/><line x1="382.6" y1="141" x2="382.6" y2="426.2"/><line x1="192.6" y1="140.9" x2="382.6" y2="140.9"/><line x1="192.6" y1="169.4" x2="382.6" y2="169.4"/><line x1="192.6" y1="197.9" x2="382.6" y2="197.9"/><line x1="192.6" y1="226.3" x2="382.6" y2="226.3"/><line x1="192.6" y1="254.8" x2="382.6" y2="254.8"/><line x1="192.6" y1="283.3" x2="382.6" y2="283.3"/><line x1="192.6" y1="311.8" x2="382.6" y2="311.8"/><line x1="192.6" y1="340.3" x2="382.6" y2="340.3"/><line x1="192.6" y1="368.7" x2="382.6" y2="368.7"/><line x1="192.6" y1="397.2" x2="382.6" y2="397.2"/><line x1="192.6" y1="425.7" x2="382.6" y2="425.7"/><line x1="287.6" y1="141" x2="287.6" y2="426.2" stroke="#c0c0c0"/></g><g class="s" font-size="10.6" font-weight="bold" fill="#111" text-anchor="middle"><text x="240.1" y="129.8">-5</text><text x="287.6" y="129.8">0</text><text x="335.1" y="129.8">5</text><text x="382.6" y="129.8">10</text></g><g class="s" font-weight="bold" fill="#111" text-anchor="middle"><text x="183.4" y="142.8" font-size="12">0</text><text x="173.8" y="171.4" font-size="10.3" letter-spacing="0.45">304.8</text><text x="173.8" y="200.0" font-size="10.3" letter-spacing="0.45">609.6</text><text x="173.8" y="228.6" font-size="10.3" letter-spacing="0.45">914.4</text><text x="173.8" y="257.1" font-size="10.3" letter-spacing="0.45">1219.2</text><text x="173.8" y="285.7" font-size="10.3" letter-spacing="0.45">1524.0</text><text x="173.8" y="314.3" font-size="10.3" letter-spacing="0.45">1828.8</text><text x="173.8" y="342.9" font-size="10.3" letter-spacing="0.45">2133.6</text><text x="173.8" y="371.5" font-size="10.3" letter-spacing="0.45">2438.4</text><text x="173.8" y="400.0" font-size="10.3" letter-spacing="0.45">2743.2</text><text x="173.8" y="428.6" font-size="10.3" letter-spacing="0.45">3048.0</text></g><path d="M192.00 155.50 C195.38 156.12 205.07 157.53 212.30 159.20 C219.53 160.87 228.08 162.72 235.40 165.50 C242.72 168.28 250.42 172.05 256.20 175.90 C261.98 179.75 266.43 183.98 270.10 188.60 C273.77 193.22 276.08 198.02 278.20 203.60 C280.32 209.18 281.45 215.93 282.80 222.10 C284.15 228.27 285.37 234.92 286.30 240.60 C287.23 246.28 287.67 248.60 288.40 256.20 C289.13 263.80 289.95 275.37 290.70 286.20 C291.45 297.03 292.23 308.70 292.90 321.20 C293.57 333.70 294.17 343.70 294.70 361.20 C295.23 378.70 295.87 415.37 296.10 426.20" fill="none" stroke="#ffc000" stroke-width="2.4" stroke-dasharray="5.3 2.7"/><path d="M192.80 154.30 C196.18 154.92 205.87 156.33 213.10 158.00 C220.33 159.67 228.88 161.52 236.20 164.30 C243.52 167.08 251.22 170.85 257.00 174.70 C262.78 178.55 267.23 182.78 270.90 187.40 C274.57 192.02 276.88 196.82 279.00 202.40 C281.12 207.98 282.25 214.73 283.60 220.90 C284.95 227.07 286.17 233.72 287.10 239.40 C288.03 245.08 288.47 247.40 289.20 255.00 C289.93 262.60 290.75 274.17 291.50 285.00 C292.25 295.83 293.03 307.50 293.70 320.00 C294.37 332.50 294.97 342.50 295.50 360.00 C296.03 377.50 296.67 414.17 296.90 425.00" fill="none" stroke="#1f6fc6" stroke-width="2.4" stroke-dasharray="5.3 2.7"/><path d="M192.80 158.50 C196.18 159.27 205.87 160.78 213.10 163.10 C220.33 165.42 229.65 168.93 236.20 172.40 C242.75 175.87 247.77 179.67 252.40 183.90 C257.03 188.13 260.72 192.78 264.00 197.80 C267.28 202.82 269.98 208.22 272.10 214.00 C274.22 219.78 275.30 225.67 276.70 232.50 C278.10 239.33 279.35 246.25 280.50 255.00 C281.65 263.75 282.68 274.17 283.60 285.00 C284.52 295.83 285.10 307.50 286.00 320.00 C286.90 332.50 288.23 342.50 289.00 360.00 C289.77 377.50 290.33 414.17 290.60 425.00" fill="none" stroke="#14a847" stroke-width="2.4" stroke-dasharray="5.3 2.7"/><path d="M192.80 151.60 C196.18 152.05 205.87 152.95 213.10 154.30 C220.33 155.65 228.48 157.27 236.20 159.70 C243.92 162.13 253.43 165.68 259.40 168.90 C265.37 172.12 268.40 175.40 272.00 179.00 C275.60 182.60 278.67 186.75 281.00 190.50 C283.33 194.25 284.60 197.58 286.00 201.50 C287.40 205.42 288.25 208.83 289.40 214.00 C290.55 219.17 291.90 226.50 292.90 232.50 C293.90 238.50 294.62 242.08 295.40 250.00 C296.18 257.92 296.90 268.33 297.60 280.00 C298.30 291.67 298.98 306.67 299.60 320.00 C300.22 333.33 300.80 342.50 301.30 360.00 C301.80 377.50 302.38 414.17 302.60 425.00" fill="none" stroke="#ff0d0d" stroke-width="2.4" stroke-dasharray="5.3 2.7"/><path d="M383.10 177.50 C382.13 178.53 379.03 181.60 377.30 183.70 C375.57 185.80 374.12 187.87 372.70 190.10 C371.28 192.33 369.98 194.70 368.80 197.10 C367.62 199.50 366.57 202.00 365.60 204.50 C364.63 207.00 363.83 209.53 363.00 212.10 C362.17 214.67 361.37 216.57 360.60 219.90 C359.83 223.23 359.05 228.10 358.40 232.10 C357.75 236.10 357.17 240.63 356.70 243.90 C356.23 247.17 355.93 249.10 355.60 251.70 C355.27 254.30 354.98 256.85 354.70 259.50 C354.42 262.15 354.13 264.95 353.90 267.60 C353.67 270.25 353.50 271.48 353.30 275.40 C353.10 279.32 352.90 284.98 352.70 291.10 C352.50 297.22 352.20 308.60 352.10 312.10" fill="none" stroke="#ffc000" stroke-width="2.2" stroke-linecap="round" stroke-dasharray="0.01 4.05"/><path d="M382.20 176.40 C381.23 177.43 378.13 180.50 376.40 182.60 C374.67 184.70 373.22 186.77 371.80 189.00 C370.38 191.23 369.08 193.60 367.90 196.00 C366.72 198.40 365.67 200.90 364.70 203.40 C363.73 205.90 362.93 208.43 362.10 211.00 C361.27 213.57 360.47 215.47 359.70 218.80 C358.93 222.13 358.15 227.00 357.50 231.00 C356.85 235.00 356.27 239.53 355.80 242.80 C355.33 246.07 355.03 248.00 354.70 250.60 C354.37 253.20 354.08 255.75 353.80 258.40 C353.52 261.05 353.23 263.85 353.00 266.50 C352.77 269.15 352.60 270.38 352.40 274.30 C352.20 278.22 352.00 283.88 351.80 290.00 C351.60 296.12 351.30 307.50 351.20 311.00" fill="none" stroke="#1f6fc6" stroke-width="2.2" stroke-linecap="round" stroke-dasharray="0.01 4.05"/><path d="M382.20 192.60 C381.35 193.82 378.52 197.42 377.10 199.90 C375.68 202.38 374.72 205.00 373.70 207.50 C372.68 210.00 371.83 212.40 371.00 214.90 C370.17 217.40 369.37 219.92 368.70 222.50 C368.03 225.08 367.58 227.78 367.00 230.40 C366.42 233.02 365.75 235.65 365.20 238.20 C364.65 240.75 364.15 243.08 363.70 245.70 C363.25 248.32 362.90 251.22 362.50 253.90 C362.10 256.58 361.65 259.13 361.30 261.80 C360.95 264.47 360.67 267.23 360.40 269.90 C360.13 272.57 360.18 271.12 359.70 277.80 C359.22 284.48 358.30 297.97 357.50 310.00 C356.70 322.03 355.55 336.67 354.90 350.00 C354.25 363.33 353.98 377.50 353.60 390.00 C353.22 402.50 352.77 419.17 352.60 425.00" fill="none" stroke="#14a847" stroke-width="2.2" stroke-linecap="round" stroke-dasharray="0.01 4.05"/><path d="M382.20 169.90 C381.10 170.85 377.62 173.68 375.60 175.60 C373.58 177.52 371.77 179.35 370.10 181.40 C368.43 183.45 366.93 185.58 365.60 187.90 C364.27 190.22 363.18 192.85 362.10 195.30 C361.02 197.75 359.98 200.10 359.10 202.60 C358.22 205.10 357.47 207.70 356.80 210.30 C356.13 212.90 355.62 215.62 355.10 218.20 C354.58 220.78 354.18 223.18 353.70 225.80 C353.22 228.42 352.58 231.25 352.20 233.90 C351.82 236.55 351.63 239.18 351.40 241.70 C351.17 244.22 350.98 246.62 350.80 249.00 C350.62 251.38 350.38 254.83 350.30 256.00" fill="none" stroke="#ff0d0d" stroke-width="2.2" stroke-linecap="round" stroke-dasharray="0.01 4.05"/><path d="M350.30 254.00 C349.88 258.33 348.78 264.00 347.80 280.00 C346.82 296.00 345.22 325.83 344.40 350.00 C343.58 374.17 343.15 412.50 342.90 425.00" fill="none" stroke="#ff0d0d" stroke-width="2"/><path d="M350.20 300.00 C349.92 308.33 349.02 329.17 348.50 350.00 C347.98 370.83 347.33 412.50 347.10 425.00" fill="none" stroke="#ffc000" stroke-width="1.4"/><path d="M350.00 300.00 C349.60 310.00 348.20 339.17 347.60 360.00 C347.00 380.83 346.60 414.17 346.40 425.00" fill="none" stroke="#1f6fc6" stroke-width="0.8"/><line x1="349.9" y1="142.6" x2="349.9" y2="425.5" stroke="#000" stroke-width="2.1"/><line x1="349.9" y1="136" x2="349.9" y2="142.6" stroke="#000" stroke-width="1.1" stroke-dasharray="1.3 1.1"/><line x1="192.2" y1="133.5" x2="192.2" y2="141.5" stroke="#000" stroke-width="1" stroke-dasharray="1.2 1.2"/><rect x="190.7" y="141.6" width="3.8" height="28.6" rx="0.8" fill="#f0f0f0" stroke="#1a1a1a" stroke-width="0.9"/><path d="M192.4 170.2 L192.4 269.5 L160 269.5" fill="none" stroke="#444" stroke-width="1.1"/><path d="M155.6 269.5 L162 266.3 L162 272.7Z" fill="#111"/><path d="M351 269.6 L393.5 269.6" fill="none" stroke="#111" stroke-width="1.1"/><path d="M398.6 269.6 L392.4 266.4 L392.4 272.8Z" fill="#111"/><line x1="151.0" y1="259" x2="151.0" y2="308" stroke="#000" stroke-width="1.5" stroke-dasharray="2.3 1.5"/><g stroke="#111" stroke-width="0.9"><line x1="151.5" y1="260" x2="154" y2="260"/><line x1="151.5" y1="272.5" x2="154" y2="272.5"/><line x1="151.5" y1="293.5" x2="154" y2="293.5"/></g><rect x="175.8" y="109.8" width="28.6" height="23.2" rx="4" fill="#fff" stroke="#f02020" stroke-width="1.1"/><text class="s" x="0" y="0" font-size="13.4" fill="#111" transform="translate(176.3 126) scale(1.38 1)">&#8722;</text><text class="s" x="186.3" y="126" font-size="13.8" letter-spacing="0.5" fill="#111">10</text><rect x="335.7" y="111.8" width="29.2" height="23.6" rx="4" fill="#fff" stroke="#f02020" stroke-width="1.1"/><text class="s" x="349.9" y="127.7" font-size="14" letter-spacing="0.7" fill="#111" text-anchor="middle">6.6</text><rect x="203.4" y="325.3" width="59.4" height="99" rx="1.5" fill="#fff" stroke="#333" stroke-width="1.3"/><line x1="210" y1="336.7" x2="230.5" y2="336.7" stroke="#ff0d0d" stroke-width="2"/><text class="r" x="232.3" y="340.9" font-size="12.5" font-weight="bold" font-style="italic" fill="#111" letter-spacing="1.6">MC</text><line x1="210" y1="356.0" x2="230.5" y2="356.0" stroke="#1f6fc6" stroke-width="2"/><text class="r" x="232.3" y="360.2" font-size="12.5" font-weight="bold" font-style="italic" fill="#111" letter-spacing="1.6">MG</text><line x1="210" y1="375.3" x2="230.5" y2="375.3" stroke="#ffc000" stroke-width="2"/><text class="r" x="232.3" y="379.5" font-size="12.5" font-weight="bold" font-style="italic" fill="#111" letter-spacing="1.6">ML</text><line x1="210" y1="394.4" x2="230.5" y2="394.4" stroke="#14a847" stroke-width="2"/><text class="r" x="232.3" y="398.59999999999997" font-size="12.5" font-weight="bold" font-style="italic" fill="#111" letter-spacing="1.6">DP</text><line x1="210" y1="413.6" x2="230.5" y2="413.6" stroke="#000" stroke-width="2"/><text class="r" x="231.6" y="417.8" font-size="12.5" font-weight="bold" fill="#111"><tspan font-style="italic">T</tspan><tspan font-size="9.5" dy="3">0</tspan><tspan dy="-3">=0</tspan></text></svg></body></html>
